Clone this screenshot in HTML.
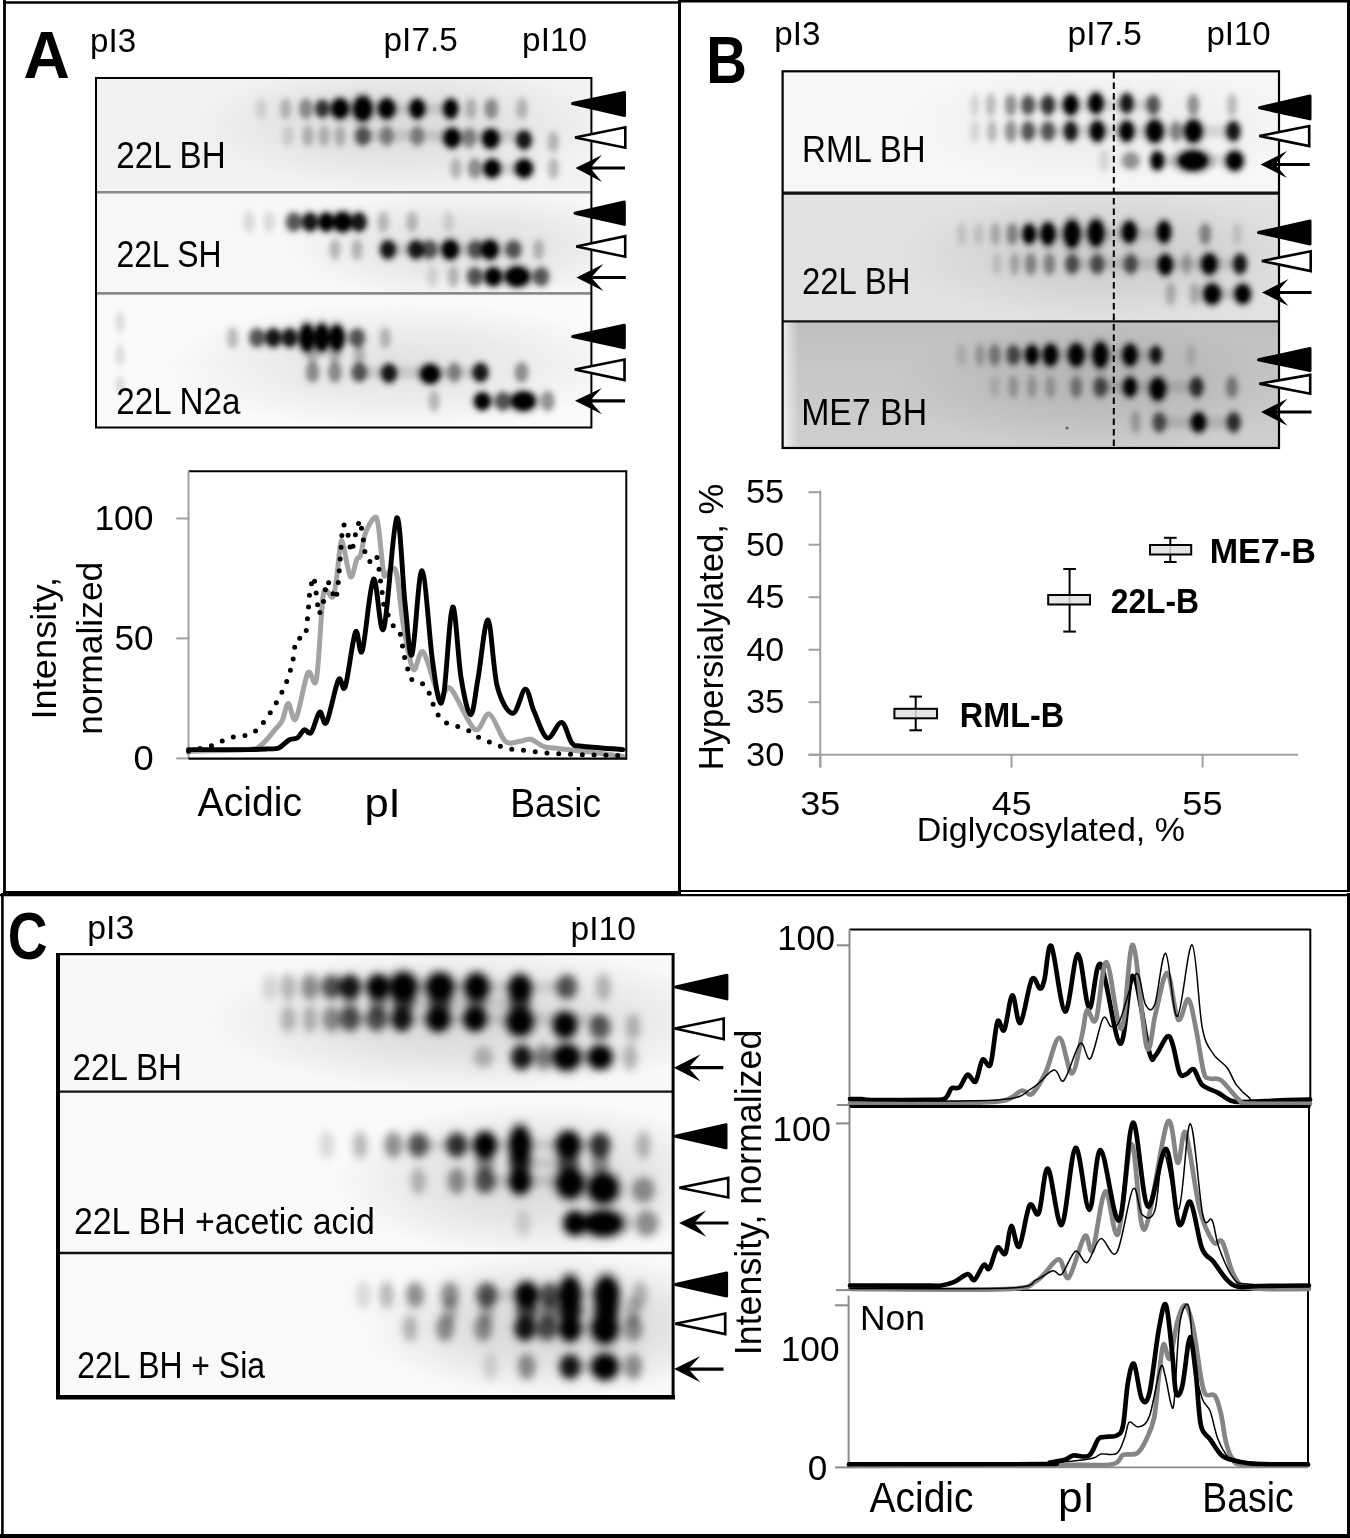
<!DOCTYPE html><html><head><meta charset="utf-8"><title>Figure</title><style>html,body{margin:0;padding:0;background:#fff;}svg{display:block;}</style></head><body><svg width="1350" height="1538" viewBox="0 0 1350 1538" font-family="'Liberation Sans', Arial, sans-serif"><defs><filter id="blur" x="-20%" y="-20%" width="140%" height="140%"><feGaussianBlur stdDeviation="2.9"/></filter><filter id="blurC" x="-20%" y="-20%" width="140%" height="140%"><feGaussianBlur stdDeviation="3.8"/></filter></defs><rect width="1350" height="1538" fill="#fff"/><line x1="4.5" y1="0" x2="4.5" y2="893" stroke="#000" stroke-width="2.8" />
<line x1="3" y1="2.5" x2="681" y2="2.5" stroke="#000" stroke-width="2.4" />
<line x1="679.5" y1="0" x2="679.5" y2="893" stroke="#000" stroke-width="3" />
<line x1="3" y1="893.5" x2="681" y2="893.5" stroke="#000" stroke-width="5" />
<text x="23.4" y="77.6" font-size="67" font-weight="bold" textLength="46.3" lengthAdjust="spacingAndGlyphs">A</text>
<text x="90" y="51.8" font-size="34" textLength="46.1" lengthAdjust="spacingAndGlyphs">pI3</text>
<text x="383.6" y="51.2" font-size="34" textLength="74.1" lengthAdjust="spacingAndGlyphs">pI7.5</text>
<text x="522.1" y="51.2" font-size="34" textLength="64.9" lengthAdjust="spacingAndGlyphs">pI10</text>
<clipPath id="cA1"><rect x="96" y="78" width="495.4" height="114"/></clipPath>
<clipPath id="cA2"><rect x="96" y="192" width="495.4" height="101.5"/></clipPath>
<clipPath id="cA3"><rect x="96" y="293.5" width="495.4" height="134"/></clipPath>
<rect x="96" y="78" width="495.4" height="114" fill="#f2f2f2" />
<rect x="96" y="192" width="495.4" height="101.5" fill="#f7f7f7" />
<rect x="96" y="293.5" width="495.4" height="134" fill="#fafafa" />
<radialGradient id="hz1"><stop offset="0" stop-color="#000" stop-opacity="0.100"/><stop offset="0.5" stop-color="#000" stop-opacity="0.060"/><stop offset="1" stop-color="#000" stop-opacity="0"/></radialGradient>
<g clip-path="url(#cA1)"><ellipse cx="400" cy="125" rx="210" ry="64" fill="url(#hz1)"/></g>
<radialGradient id="hz2"><stop offset="0" stop-color="#000" stop-opacity="0.100"/><stop offset="0.5" stop-color="#000" stop-opacity="0.060"/><stop offset="1" stop-color="#000" stop-opacity="0"/></radialGradient>
<g clip-path="url(#cA2)"><ellipse cx="470" cy="245" rx="182" ry="56" fill="url(#hz2)"/></g>
<radialGradient id="hz3"><stop offset="0" stop-color="#000" stop-opacity="0.100"/><stop offset="0.5" stop-color="#000" stop-opacity="0.060"/><stop offset="1" stop-color="#000" stop-opacity="0"/></radialGradient>
<g clip-path="url(#cA3)"><ellipse cx="400" cy="365" rx="238" ry="64" fill="url(#hz3)"/></g>
<g clip-path="url(#cA1)" filter="url(#blur)">
<rect x="318.2" y="102.7" width="136.5" height="12" rx="6" fill="#000" fill-opacity="0.11"/>
<rect x="358.7" y="130" width="169.3" height="12" rx="6" fill="#000" fill-opacity="0.11"/>
<rect x="488" y="162.5" width="40" height="12" rx="6" fill="#000" fill-opacity="0.11"/>
<ellipse cx="261.1" cy="108.7" rx="7.9" ry="14.2" fill="#000" fill-opacity="0.02"/>
<ellipse cx="261.1" cy="108.7" rx="5.5" ry="10.1" fill="#000" fill-opacity="0.10"/>
<ellipse cx="285.6" cy="108.7" rx="7.9" ry="14.2" fill="#000" fill-opacity="0.04"/>
<ellipse cx="285.6" cy="108.7" rx="5.5" ry="10.1" fill="#000" fill-opacity="0.20"/>
<ellipse cx="305.9" cy="108.7" rx="9.4" ry="13.5" fill="#000" fill-opacity="0.08"/>
<ellipse cx="305.9" cy="108.7" rx="6.5" ry="9.7" fill="#000" fill-opacity="0.35"/>
<ellipse cx="322.2" cy="108.7" rx="9.9" ry="12.2" fill="#000" fill-opacity="0.16"/>
<ellipse cx="322.2" cy="108.7" rx="6.8" ry="8.7" fill="#000" fill-opacity="0.72"/>
<ellipse cx="340" cy="108.7" rx="12.7" ry="14.2" fill="#000" fill-opacity="0.22"/>
<ellipse cx="340" cy="108.7" rx="8.7" ry="10.1" fill="#000" fill-opacity="1.00"/>
<ellipse cx="362.7" cy="108.7" rx="13.8" ry="17.4" fill="#000" fill-opacity="0.22"/>
<ellipse cx="362.7" cy="108.7" rx="9.5" ry="12.4" fill="#000" fill-opacity="1.00"/>
<ellipse cx="386.7" cy="108.7" rx="12.1" ry="14.2" fill="#000" fill-opacity="0.22"/>
<ellipse cx="386.7" cy="108.7" rx="8.4" ry="10.1" fill="#000" fill-opacity="1.00"/>
<ellipse cx="417.3" cy="108.7" rx="11" ry="13.5" fill="#000" fill-opacity="0.22"/>
<ellipse cx="417.3" cy="108.7" rx="7.6" ry="9.7" fill="#000" fill-opacity="1.00"/>
<ellipse cx="450.7" cy="108.7" rx="10.5" ry="13.5" fill="#000" fill-opacity="0.22"/>
<ellipse cx="450.7" cy="108.7" rx="7.2" ry="9.7" fill="#000" fill-opacity="1.00"/>
<ellipse cx="470.9" cy="108.7" rx="7.9" ry="14.2" fill="#000" fill-opacity="0.04"/>
<ellipse cx="470.9" cy="108.7" rx="5.5" ry="10.1" fill="#000" fill-opacity="0.20"/>
<ellipse cx="491.3" cy="108.7" rx="9.4" ry="13.5" fill="#000" fill-opacity="0.08"/>
<ellipse cx="491.3" cy="108.7" rx="6.5" ry="9.7" fill="#000" fill-opacity="0.35"/>
<ellipse cx="521.9" cy="108.7" rx="7.9" ry="14.2" fill="#000" fill-opacity="0.04"/>
<ellipse cx="521.9" cy="108.7" rx="5.5" ry="10.1" fill="#000" fill-opacity="0.20"/>
<ellipse cx="288" cy="136" rx="7.9" ry="14.2" fill="#000" fill-opacity="0.02"/>
<ellipse cx="288" cy="136" rx="5.5" ry="10.1" fill="#000" fill-opacity="0.10"/>
<ellipse cx="308" cy="136" rx="7.9" ry="14.2" fill="#000" fill-opacity="0.04"/>
<ellipse cx="308" cy="136" rx="5.5" ry="10.1" fill="#000" fill-opacity="0.20"/>
<ellipse cx="324" cy="136" rx="7.9" ry="14.2" fill="#000" fill-opacity="0.04"/>
<ellipse cx="324" cy="136" rx="5.5" ry="10.1" fill="#000" fill-opacity="0.20"/>
<ellipse cx="340" cy="136" rx="7.9" ry="14.2" fill="#000" fill-opacity="0.04"/>
<ellipse cx="340" cy="136" rx="5.5" ry="10.1" fill="#000" fill-opacity="0.20"/>
<ellipse cx="362.7" cy="136" rx="11" ry="12.9" fill="#000" fill-opacity="0.12"/>
<ellipse cx="362.7" cy="136" rx="7.6" ry="9.2" fill="#000" fill-opacity="0.56"/>
<ellipse cx="386.7" cy="136" rx="9.4" ry="13.5" fill="#000" fill-opacity="0.08"/>
<ellipse cx="386.7" cy="136" rx="6.5" ry="9.7" fill="#000" fill-opacity="0.35"/>
<ellipse cx="417.3" cy="136" rx="9.4" ry="13.5" fill="#000" fill-opacity="0.08"/>
<ellipse cx="417.3" cy="136" rx="6.5" ry="9.7" fill="#000" fill-opacity="0.35"/>
<ellipse cx="452" cy="138" rx="12.1" ry="13.5" fill="#000" fill-opacity="0.22"/>
<ellipse cx="452" cy="138" rx="8.4" ry="9.7" fill="#000" fill-opacity="1.00"/>
<ellipse cx="469.3" cy="138" rx="9.4" ry="13.5" fill="#000" fill-opacity="0.08"/>
<ellipse cx="469.3" cy="138" rx="6.5" ry="9.7" fill="#000" fill-opacity="0.35"/>
<ellipse cx="490.7" cy="138.7" rx="12.1" ry="13.5" fill="#000" fill-opacity="0.22"/>
<ellipse cx="490.7" cy="138.7" rx="8.4" ry="9.7" fill="#000" fill-opacity="1.00"/>
<ellipse cx="524" cy="140" rx="11" ry="12.9" fill="#000" fill-opacity="0.19"/>
<ellipse cx="524" cy="140" rx="7.6" ry="9.2" fill="#000" fill-opacity="0.88"/>
<ellipse cx="553.3" cy="142" rx="7.9" ry="14.2" fill="#000" fill-opacity="0.04"/>
<ellipse cx="553.3" cy="142" rx="5.5" ry="10.1" fill="#000" fill-opacity="0.20"/>
<ellipse cx="456" cy="168.5" rx="7.9" ry="14.2" fill="#000" fill-opacity="0.04"/>
<ellipse cx="456" cy="168.5" rx="5.5" ry="10.1" fill="#000" fill-opacity="0.20"/>
<ellipse cx="474.7" cy="168.5" rx="9.4" ry="13.5" fill="#000" fill-opacity="0.08"/>
<ellipse cx="474.7" cy="168.5" rx="6.5" ry="9.7" fill="#000" fill-opacity="0.35"/>
<ellipse cx="492" cy="168.5" rx="12.1" ry="12.9" fill="#000" fill-opacity="0.22"/>
<ellipse cx="492" cy="168.5" rx="8.4" ry="9.2" fill="#000" fill-opacity="1.00"/>
<ellipse cx="524" cy="168.5" rx="12.7" ry="12.9" fill="#000" fill-opacity="0.22"/>
<ellipse cx="524" cy="168.5" rx="8.7" ry="9.2" fill="#000" fill-opacity="1.00"/>
<ellipse cx="553.3" cy="168.5" rx="7.9" ry="14.2" fill="#000" fill-opacity="0.04"/>
<ellipse cx="553.3" cy="168.5" rx="5.5" ry="10.1" fill="#000" fill-opacity="0.20"/>
</g>
<g clip-path="url(#cA2)" filter="url(#blur)">
<rect x="289.7" y="216" width="73.2" height="12" rx="6" fill="#000" fill-opacity="0.11"/>
<rect x="384" y="243.6" width="133.6" height="12" rx="6" fill="#000" fill-opacity="0.11"/>
<rect x="470.7" y="270.7" width="74.6" height="12" rx="6" fill="#000" fill-opacity="0.11"/>
<ellipse cx="248.9" cy="222" rx="7.9" ry="14.2" fill="#000" fill-opacity="0.02"/>
<ellipse cx="248.9" cy="222" rx="5.5" ry="10.1" fill="#000" fill-opacity="0.10"/>
<ellipse cx="269.3" cy="222" rx="7.9" ry="14.2" fill="#000" fill-opacity="0.02"/>
<ellipse cx="269.3" cy="222" rx="5.5" ry="10.1" fill="#000" fill-opacity="0.10"/>
<ellipse cx="293.7" cy="222" rx="11" ry="12.9" fill="#000" fill-opacity="0.12"/>
<ellipse cx="293.7" cy="222" rx="7.6" ry="9.2" fill="#000" fill-opacity="0.56"/>
<ellipse cx="310" cy="222" rx="11" ry="12.9" fill="#000" fill-opacity="0.19"/>
<ellipse cx="310" cy="222" rx="7.6" ry="9.2" fill="#000" fill-opacity="0.88"/>
<ellipse cx="326.3" cy="222" rx="11" ry="12.9" fill="#000" fill-opacity="0.22"/>
<ellipse cx="326.3" cy="222" rx="7.6" ry="9.2" fill="#000" fill-opacity="1.00"/>
<ellipse cx="342.6" cy="222" rx="13.2" ry="14.2" fill="#000" fill-opacity="0.22"/>
<ellipse cx="342.6" cy="222" rx="9.1" ry="10.1" fill="#000" fill-opacity="1.00"/>
<ellipse cx="358.9" cy="222" rx="11" ry="12.9" fill="#000" fill-opacity="0.19"/>
<ellipse cx="358.9" cy="222" rx="7.6" ry="9.2" fill="#000" fill-opacity="0.88"/>
<ellipse cx="383.3" cy="222" rx="7.9" ry="14.2" fill="#000" fill-opacity="0.04"/>
<ellipse cx="383.3" cy="222" rx="5.5" ry="10.1" fill="#000" fill-opacity="0.20"/>
<ellipse cx="411.9" cy="222" rx="7.9" ry="14.2" fill="#000" fill-opacity="0.04"/>
<ellipse cx="411.9" cy="222" rx="5.5" ry="10.1" fill="#000" fill-opacity="0.20"/>
<ellipse cx="448.5" cy="222" rx="7.9" ry="14.2" fill="#000" fill-opacity="0.02"/>
<ellipse cx="448.5" cy="222" rx="5.5" ry="10.1" fill="#000" fill-opacity="0.10"/>
<ellipse cx="335" cy="249.6" rx="7.9" ry="14.2" fill="#000" fill-opacity="0.04"/>
<ellipse cx="335" cy="249.6" rx="5.5" ry="10.1" fill="#000" fill-opacity="0.20"/>
<ellipse cx="357" cy="249.6" rx="7.9" ry="14.2" fill="#000" fill-opacity="0.04"/>
<ellipse cx="357" cy="249.6" rx="5.5" ry="10.1" fill="#000" fill-opacity="0.20"/>
<ellipse cx="388" cy="249.6" rx="11" ry="12.9" fill="#000" fill-opacity="0.19"/>
<ellipse cx="388" cy="249.6" rx="7.6" ry="9.2" fill="#000" fill-opacity="0.88"/>
<ellipse cx="416" cy="249.6" rx="11" ry="12.9" fill="#000" fill-opacity="0.19"/>
<ellipse cx="416" cy="249.6" rx="7.6" ry="9.2" fill="#000" fill-opacity="0.88"/>
<ellipse cx="429.3" cy="249.6" rx="11" ry="12.9" fill="#000" fill-opacity="0.12"/>
<ellipse cx="429.3" cy="249.6" rx="7.6" ry="9.2" fill="#000" fill-opacity="0.56"/>
<ellipse cx="450.2" cy="249.6" rx="12.1" ry="13.5" fill="#000" fill-opacity="0.22"/>
<ellipse cx="450.2" cy="249.6" rx="8.4" ry="9.7" fill="#000" fill-opacity="1.00"/>
<ellipse cx="475.7" cy="249.6" rx="11" ry="12.9" fill="#000" fill-opacity="0.12"/>
<ellipse cx="475.7" cy="249.6" rx="7.6" ry="9.2" fill="#000" fill-opacity="0.56"/>
<ellipse cx="489.9" cy="249.6" rx="12.1" ry="13.5" fill="#000" fill-opacity="0.22"/>
<ellipse cx="489.9" cy="249.6" rx="8.4" ry="9.7" fill="#000" fill-opacity="1.00"/>
<ellipse cx="513.6" cy="249.6" rx="11" ry="12.9" fill="#000" fill-opacity="0.12"/>
<ellipse cx="513.6" cy="249.6" rx="7.6" ry="9.2" fill="#000" fill-opacity="0.56"/>
<ellipse cx="538.5" cy="249.6" rx="7.9" ry="14.2" fill="#000" fill-opacity="0.04"/>
<ellipse cx="538.5" cy="249.6" rx="5.5" ry="10.1" fill="#000" fill-opacity="0.20"/>
<ellipse cx="432" cy="276.7" rx="7.9" ry="14.2" fill="#000" fill-opacity="0.02"/>
<ellipse cx="432" cy="276.7" rx="5.5" ry="10.1" fill="#000" fill-opacity="0.10"/>
<ellipse cx="453.3" cy="276.7" rx="7.9" ry="14.2" fill="#000" fill-opacity="0.04"/>
<ellipse cx="453.3" cy="276.7" rx="5.5" ry="10.1" fill="#000" fill-opacity="0.20"/>
<ellipse cx="474.7" cy="276.7" rx="11" ry="12.9" fill="#000" fill-opacity="0.12"/>
<ellipse cx="474.7" cy="276.7" rx="7.6" ry="9.2" fill="#000" fill-opacity="0.56"/>
<ellipse cx="493.3" cy="276.7" rx="12.1" ry="12.9" fill="#000" fill-opacity="0.22"/>
<ellipse cx="493.3" cy="276.7" rx="8.4" ry="9.2" fill="#000" fill-opacity="1.00"/>
<ellipse cx="517.3" cy="276.7" rx="17.6" ry="14.2" fill="#000" fill-opacity="0.22"/>
<ellipse cx="517.3" cy="276.7" rx="12.2" ry="10.1" fill="#000" fill-opacity="1.00"/>
<ellipse cx="541.3" cy="276.7" rx="11" ry="12.9" fill="#000" fill-opacity="0.12"/>
<ellipse cx="541.3" cy="276.7" rx="7.6" ry="9.2" fill="#000" fill-opacity="0.56"/>
</g>
<g clip-path="url(#cA3)" filter="url(#blur)">
<rect x="253" y="331.8" width="108.3" height="12" rx="6" fill="#000" fill-opacity="0.11"/>
<rect x="355.2" y="366.5" width="129.3" height="12" rx="6" fill="#000" fill-opacity="0.11"/>
<rect x="478.3" y="395.2" width="49.1" height="12" rx="6" fill="#000" fill-opacity="0.11"/>
<ellipse cx="120" cy="322" rx="6.3" ry="14.2" fill="#000" fill-opacity="0.02"/>
<ellipse cx="120" cy="322" rx="4.4" ry="10.1" fill="#000" fill-opacity="0.10"/>
<ellipse cx="120" cy="355" rx="6.3" ry="14.2" fill="#000" fill-opacity="0.02"/>
<ellipse cx="120" cy="355" rx="4.4" ry="10.1" fill="#000" fill-opacity="0.10"/>
<ellipse cx="120" cy="385" rx="6.3" ry="11.3" fill="#000" fill-opacity="0.02"/>
<ellipse cx="120" cy="385" rx="4.4" ry="8.1" fill="#000" fill-opacity="0.10"/>
<ellipse cx="232.6" cy="337.8" rx="7.9" ry="14.2" fill="#000" fill-opacity="0.04"/>
<ellipse cx="232.6" cy="337.8" rx="5.5" ry="10.1" fill="#000" fill-opacity="0.20"/>
<ellipse cx="257" cy="337.8" rx="11" ry="12.9" fill="#000" fill-opacity="0.12"/>
<ellipse cx="257" cy="337.8" rx="7.6" ry="9.2" fill="#000" fill-opacity="0.56"/>
<ellipse cx="273.3" cy="337.8" rx="11" ry="12.9" fill="#000" fill-opacity="0.19"/>
<ellipse cx="273.3" cy="337.8" rx="7.6" ry="9.2" fill="#000" fill-opacity="0.88"/>
<ellipse cx="289.6" cy="337.8" rx="11" ry="12.9" fill="#000" fill-opacity="0.19"/>
<ellipse cx="289.6" cy="337.8" rx="7.6" ry="9.2" fill="#000" fill-opacity="0.88"/>
<ellipse cx="306.9" cy="337.8" rx="11" ry="19.3" fill="#000" fill-opacity="0.22"/>
<ellipse cx="306.9" cy="337.8" rx="7.6" ry="13.8" fill="#000" fill-opacity="1.00"/>
<ellipse cx="321.8" cy="337.8" rx="11" ry="19.3" fill="#000" fill-opacity="0.22"/>
<ellipse cx="321.8" cy="337.8" rx="7.6" ry="13.8" fill="#000" fill-opacity="1.00"/>
<ellipse cx="336.8" cy="337.8" rx="11" ry="18" fill="#000" fill-opacity="0.22"/>
<ellipse cx="336.8" cy="337.8" rx="7.6" ry="12.9" fill="#000" fill-opacity="1.00"/>
<ellipse cx="357.3" cy="337.8" rx="11" ry="12.9" fill="#000" fill-opacity="0.12"/>
<ellipse cx="357.3" cy="337.8" rx="7.6" ry="9.2" fill="#000" fill-opacity="0.56"/>
<ellipse cx="385.3" cy="337.8" rx="7.9" ry="14.2" fill="#000" fill-opacity="0.04"/>
<ellipse cx="385.3" cy="337.8" rx="5.5" ry="10.1" fill="#000" fill-opacity="0.20"/>
<ellipse cx="312.5" cy="355" rx="7.9" ry="14.2" fill="#000" fill-opacity="0.04"/>
<ellipse cx="312.5" cy="355" rx="5.5" ry="10.1" fill="#000" fill-opacity="0.20"/>
<ellipse cx="334.9" cy="355" rx="7.9" ry="14.2" fill="#000" fill-opacity="0.04"/>
<ellipse cx="334.9" cy="355" rx="5.5" ry="10.1" fill="#000" fill-opacity="0.20"/>
<ellipse cx="359.2" cy="355" rx="7.9" ry="14.2" fill="#000" fill-opacity="0.04"/>
<ellipse cx="359.2" cy="355" rx="5.5" ry="10.1" fill="#000" fill-opacity="0.20"/>
<ellipse cx="312.5" cy="372.5" rx="9.4" ry="13.5" fill="#000" fill-opacity="0.08"/>
<ellipse cx="312.5" cy="372.5" rx="6.5" ry="9.7" fill="#000" fill-opacity="0.35"/>
<ellipse cx="334.9" cy="372.5" rx="9.4" ry="13.5" fill="#000" fill-opacity="0.08"/>
<ellipse cx="334.9" cy="372.5" rx="6.5" ry="9.7" fill="#000" fill-opacity="0.35"/>
<ellipse cx="359.2" cy="372.5" rx="11" ry="12.9" fill="#000" fill-opacity="0.12"/>
<ellipse cx="359.2" cy="372.5" rx="7.6" ry="9.2" fill="#000" fill-opacity="0.56"/>
<ellipse cx="389" cy="373.3" rx="11" ry="12.9" fill="#000" fill-opacity="0.19"/>
<ellipse cx="389" cy="373.3" rx="7.6" ry="9.2" fill="#000" fill-opacity="0.88"/>
<ellipse cx="430.1" cy="374" rx="14.3" ry="13.5" fill="#000" fill-opacity="0.22"/>
<ellipse cx="430.1" cy="374" rx="9.9" ry="9.7" fill="#000" fill-opacity="1.00"/>
<ellipse cx="454.3" cy="372.5" rx="9.4" ry="13.5" fill="#000" fill-opacity="0.08"/>
<ellipse cx="454.3" cy="372.5" rx="6.5" ry="9.7" fill="#000" fill-opacity="0.35"/>
<ellipse cx="480.5" cy="372.5" rx="11" ry="12.9" fill="#000" fill-opacity="0.19"/>
<ellipse cx="480.5" cy="372.5" rx="7.6" ry="9.2" fill="#000" fill-opacity="0.88"/>
<ellipse cx="521.5" cy="372.5" rx="9.4" ry="13.5" fill="#000" fill-opacity="0.08"/>
<ellipse cx="521.5" cy="372.5" rx="6.5" ry="9.7" fill="#000" fill-opacity="0.35"/>
<ellipse cx="434" cy="401.2" rx="7.9" ry="14.2" fill="#000" fill-opacity="0.04"/>
<ellipse cx="434" cy="401.2" rx="5.5" ry="10.1" fill="#000" fill-opacity="0.20"/>
<ellipse cx="482.3" cy="401.2" rx="11.6" ry="12.2" fill="#000" fill-opacity="0.22"/>
<ellipse cx="482.3" cy="401.2" rx="8" ry="8.7" fill="#000" fill-opacity="1.00"/>
<ellipse cx="502.9" cy="401.2" rx="11" ry="12.9" fill="#000" fill-opacity="0.12"/>
<ellipse cx="502.9" cy="401.2" rx="7.6" ry="9.2" fill="#000" fill-opacity="0.56"/>
<ellipse cx="523.4" cy="401.2" rx="17.6" ry="13.5" fill="#000" fill-opacity="0.22"/>
<ellipse cx="523.4" cy="401.2" rx="12.2" ry="9.7" fill="#000" fill-opacity="1.00"/>
<ellipse cx="547.7" cy="401.2" rx="9.4" ry="13.5" fill="#000" fill-opacity="0.08"/>
<ellipse cx="547.7" cy="401.2" rx="6.5" ry="9.7" fill="#000" fill-opacity="0.35"/>
</g>
<line x1="96" y1="192.2" x2="591.4" y2="192.2" stroke="#8a8a8a" stroke-width="2.6" />
<line x1="96" y1="293.4" x2="591.4" y2="293.4" stroke="#8a8a8a" stroke-width="2.6" />
<rect x="96" y="78" width="495.4" height="349.5" fill="none" stroke="#000" stroke-width="2" />
<text x="116.3" y="167.5" font-size="36" textLength="109.4" lengthAdjust="spacingAndGlyphs">22L BH</text>
<text x="116.4" y="266.6" font-size="36" textLength="105.2" lengthAdjust="spacingAndGlyphs">22L SH</text>
<text x="116.3" y="414.4" font-size="36" textLength="124.1" lengthAdjust="spacingAndGlyphs">22L N2a</text>
<path d="M572.5 103.5 L624.5 92.5 L624.5 115.5 Z" fill="#000" stroke="#000" stroke-width="3" stroke-linejoin="round"/>
<path d="M575 137.5 L625.3 127.3 L625.3 147.7 Z" fill="#fff" stroke="#000" stroke-width="2.6" stroke-linejoin="miter"/>
<line x1="583.5" y1="168" x2="625" y2="168" stroke="#000" stroke-width="3.2" />
<path d="M575.5 168 L602 155 L590.1 168 L602 182 Z" fill="#000"/>
<path d="M575 213.2 L624.3 202 L624.3 224.4 Z" fill="#000" stroke="#000" stroke-width="3" stroke-linejoin="round"/>
<path d="M576.3 246.5 L625.2 236.2 L625.2 256.7 Z" fill="#fff" stroke="#000" stroke-width="2.6" stroke-linejoin="miter"/>
<line x1="584.4" y1="277.5" x2="625.8" y2="277.5" stroke="#000" stroke-width="3.2" />
<path d="M576.4 277.5 L603.4 264 L591.2 277.5 L603.4 291 Z" fill="#000"/>
<path d="M572.7 336.5 L624.3 325.3 L624.3 347.8 Z" fill="#000" stroke="#000" stroke-width="3" stroke-linejoin="round"/>
<path d="M574.8 369.4 L624.5 359.5 L624.5 380.1 Z" fill="#fff" stroke="#000" stroke-width="2.6" stroke-linejoin="miter"/>
<line x1="583" y1="400.8" x2="625" y2="400.8" stroke="#000" stroke-width="3.2" />
<path d="M575 400.8 L601.9 388.1 L589.8 400.8 L601.9 414.3 Z" fill="#000"/>
<line x1="188.5" y1="471.2" x2="626.3" y2="471.2" stroke="#000" stroke-width="2" />
<line x1="626.3" y1="470.2" x2="626.3" y2="759.5" stroke="#000" stroke-width="2" />
<line x1="188.5" y1="471" x2="188.5" y2="759" stroke="#a0a0a0" stroke-width="2" />
<line x1="176.3" y1="758.4" x2="188.5" y2="758.4" stroke="#a0a0a0" stroke-width="2" />
<line x1="176.3" y1="638.4" x2="188.5" y2="638.4" stroke="#a0a0a0" stroke-width="2" />
<line x1="176.3" y1="518.5" x2="188.5" y2="518.5" stroke="#a0a0a0" stroke-width="2" />
<text x="94.4" y="530.3" font-size="35.7" textLength="59.2" lengthAdjust="spacingAndGlyphs">100</text>
<text x="114.5" y="650.3" font-size="35.7" textLength="39.1" lengthAdjust="spacingAndGlyphs">50</text>
<text x="133.4" y="769.5" font-size="35.7" textLength="20.2" lengthAdjust="spacingAndGlyphs">0</text>
<text transform="translate(56.4 719.5) rotate(-90)" font-size="35" textLength="142.5" lengthAdjust="spacingAndGlyphs">Intensity,</text>
<text transform="translate(102.2 734.8) rotate(-90)" font-size="35" textLength="173.1" lengthAdjust="spacingAndGlyphs">normalized</text>
<text x="197.6" y="816.3" font-size="41" textLength="104.4" lengthAdjust="spacingAndGlyphs">Acidic</text>
<text x="364.4" y="816.8" font-size="41" textLength="36.3" lengthAdjust="spacingAndGlyphs">pI</text>
<text x="510.3" y="816.8" font-size="41" textLength="90.7" lengthAdjust="spacingAndGlyphs">Basic</text>
<path d="M188.5 751.2 C198.4 750.9 235.9 750.7 248.1 749.6 C260.3 748.5 257.2 747.9 261.8 744.5 C266.4 741.1 272 733.2 275.4 729.2 C278.8 725.2 280 724.9 282.2 720.6 C284.4 716.3 286 703.9 288.3 703.6 C290.6 703.3 292.6 724.1 295.8 719 C299.1 713.9 304.4 679.5 307.8 673 C311.2 666.5 313.8 692 316.3 679.8 C318.8 667.5 321 614.4 322.7 599.5 C324.4 584.6 324.8 591.1 326.5 590.7 C328.2 590.3 331.1 599.1 332.8 597 C334.5 594.9 335.3 586.6 336.6 578 C337.9 569.4 339.3 551 340.4 545.3 C341.4 539.5 341.2 538.2 342.9 543.5 C344.6 548.8 348.2 574.2 350.5 576.8 C352.8 579.4 355.1 562.8 356.8 559.2 C358.5 555.6 359 559.8 360.5 555.4 C362 551 363.3 539 365.6 532.7 C367.9 526.4 372.3 518.9 374.4 517.6 C376.5 516.4 376.7 516.4 378.2 525.2 C379.7 534 381.9 562.1 383.2 570.5 C384.4 578.9 384.2 575.9 385.7 575.6 C387.2 575.3 390.1 568.6 392 568.6 C393.9 568.6 395.1 566 397 575.6 C398.9 585.2 400.7 610.4 403.4 626 C406.1 641.6 410 665 413.3 669.3 C416.6 673.6 419 647.5 423.3 652 C427.6 656.5 434.7 689.9 439.3 696 C443.9 702.1 444.8 683.2 450.7 688.7 C456.6 694.2 468.3 725.1 474.7 729.3 C481.1 733.5 484.2 712 489.3 714 C494.4 716 500.2 736.8 505.3 741.3 C510.4 745.8 515.8 741.6 520 741.3 C524.2 741 526.7 738.4 530.7 739.3 C534.7 740.2 539.1 745.1 544 746.7 C548.9 748.3 552.3 747.8 560 748.7 C567.7 749.6 579.5 750.7 590 752 C600.5 753.3 617.4 755.7 622.9 756.4" fill="none" stroke="#a3a3a3" stroke-width="5" stroke-linejoin="round" stroke-linecap="round"/>
<path d="M188.5 749.6 C198.4 749.6 234.8 749.7 248.1 749.6 C261.4 749.5 263.5 749.2 268.6 748.9 C273.7 748.6 275.4 749.4 278.8 747.9 C282.2 746.4 285.9 741.7 289 740 C292.1 738.3 294.9 739.4 297.5 737.7 C300.1 736 302.1 730.6 304.4 729.8 C306.7 728.9 308.6 735.5 311.2 732.6 C313.8 729.7 317.1 713.8 319.7 712.1 C322.2 710.4 323.4 727.8 326.5 722.4 C329.6 717 335.3 685.8 338.4 679.8 C341.5 673.8 342.3 694.5 345.2 686.6 C348.1 678.7 352.6 638.1 355.5 632.1 C358.4 626.1 359.3 659.6 362.3 650.8 C365.3 642 369.9 582.9 373.5 579.2 C377.1 575.5 379.8 638.9 383.7 628.7 C387.6 618.5 393.1 522.2 396.7 517.9 C400.2 513.6 402.4 580.3 405 603.1 C407.6 625.9 409.2 660.1 412 654.7 C414.8 649.3 418.5 570.2 421.9 570.7 C425.2 571.2 429.3 636.3 432.1 657.6 C434.9 678.9 436.7 693 438.7 698.7 C440.7 704.4 441.8 707 444.1 691.7 C446.4 676.4 449.9 609.3 452.7 607 C455.5 604.7 458.1 660 461.1 678 C464.1 696 467.9 714.7 470.7 714.7 C473.5 714.7 475.2 693.8 478.1 678 C481 662.2 484.8 618.5 488 620 C491.2 621.5 493.2 671.2 497.3 686.7 C501.4 702.2 508 712.9 512.7 713.3 C517.4 713.7 521.7 689.5 525.3 689.3 C528.9 689.1 530.6 704 534.3 712.1 C538 720.2 542.8 736.3 547.3 738 C551.8 739.7 557.5 721.6 561.6 722.4 C565.7 723.2 568.4 738.8 571.8 742.8 C575.2 746.8 573.5 745.1 582 746.2 C590.5 747.3 616.1 749 622.9 749.6" fill="none" stroke="#000" stroke-width="4.9" stroke-linejoin="round" stroke-linecap="round"/>
<path d="M188.5 751.3 L212.4 745.5 L224.3 740 L236.2 736 L248.1 735.3 L258.4 729.2 L268.6 715.5 L278.8 698.5 L285.6 684.9 L292.4 664.4 L295.7 639.8 L305.7 635.8 L307 623 L308.3 610.8 L309.1 598.2 L310.5 586.3 L313.9 576.8 L315.8 589.4 L317.1 601.8 L319.2 614.4 L323 605.2 L324.6 593.2 L327.8 580.6 L332.2 591.9 L336 599.5 L337.9 586.9 L338.9 574.6 L340 562 L341 549.5 L341.6 537.2 L343.5 524.6 L347.3 527.7 L348.6 540 L351.1 552.3 L354.5 541.6 L356.1 529.6 L359.9 520.2 L362.4 532.7 L364 545 L365.6 557.3 L370.6 562.3 L376.6 555.7 L378.9 568.3 L380.4 580.4 L382.2 593 L383.8 605.5 L392.7 625.3 L399.7 630.9 L402 642.9 L404 655.3 L407.3 667.7 L410.9 679.3 L421.3 682.4 L428 689.6 L432 701.6 L436.7 713.3 L444.9 722.4 L456 726 L467.6 730 L478 737.1 L489.3 742 L500.7 746.4 L512.9 749.6 L525.3 750.4 L537.7 752 L550 753.3 L590 755 L622.9 755.7" fill="none" stroke="#000" stroke-width="5" stroke-linecap="round" stroke-dasharray="0 11.8"/>
<line x1="188.5" y1="758.6" x2="627" y2="758.6" stroke="#000" stroke-width="2.2" />
<line x1="679" y1="1.2" x2="1350" y2="1.2" stroke="#000" stroke-width="2.5" />
<line x1="1348.5" y1="0" x2="1348.5" y2="892" stroke="#000" stroke-width="3" />
<line x1="679" y1="891" x2="1350" y2="891" stroke="#000" stroke-width="2" />
<text x="706.2" y="83.3" font-size="67.5" font-weight="bold" textLength="40.7" lengthAdjust="spacingAndGlyphs">B</text>
<text x="774.3" y="45.1" font-size="34" textLength="46.1" lengthAdjust="spacingAndGlyphs">pI3</text>
<text x="1067.6" y="45" font-size="34" textLength="74.3" lengthAdjust="spacingAndGlyphs">pI7.5</text>
<text x="1206.4" y="45" font-size="34" textLength="64.3" lengthAdjust="spacingAndGlyphs">pI10</text>
<clipPath id="cB1"><rect x="782.6" y="71.3" width="496.4" height="121.4"/></clipPath>
<clipPath id="cB2"><rect x="782.6" y="192.7" width="496.4" height="128"/></clipPath>
<clipPath id="cB3"><rect x="782.6" y="320.7" width="496.4" height="127.3"/></clipPath>
<rect x="782.6" y="71.3" width="496.4" height="121.4" fill="#f7f7f7" />
<rect x="782.6" y="192.7" width="496.4" height="128" fill="#e1e1e1" />
<linearGradient id="b3g" x1="0" y1="0" x2="0" y2="1"><stop offset="0" stop-color="#bfbfbf"/><stop offset="0.45" stop-color="#c8c8c8"/><stop offset="1" stop-color="#cecece"/></linearGradient>
<rect x="782.6" y="320.7" width="496.4" height="127.3" fill="url(#b3g)" />
<linearGradient id="b3l"><stop offset="0" stop-color="#fff" stop-opacity="0.7"/><stop offset="1" stop-color="#fff" stop-opacity="0"/></linearGradient>
<rect x="782.6" y="320.7" width="16" height="127.3" fill="url(#b3l)" />
<radialGradient id="hz4"><stop offset="0" stop-color="#000" stop-opacity="0.050"/><stop offset="0.5" stop-color="#000" stop-opacity="0.030"/><stop offset="1" stop-color="#000" stop-opacity="0"/></radialGradient>
<g clip-path="url(#cB1)"><ellipse cx="1110" cy="125" rx="210" ry="64" fill="url(#hz4)"/></g>
<radialGradient id="hz5"><stop offset="0" stop-color="#000" stop-opacity="0.100"/><stop offset="0.5" stop-color="#000" stop-opacity="0.060"/><stop offset="1" stop-color="#000" stop-opacity="0"/></radialGradient>
<g clip-path="url(#cB2)"><ellipse cx="1110" cy="255" rx="210" ry="64" fill="url(#hz5)"/></g>
<radialGradient id="hz6"><stop offset="0" stop-color="#000" stop-opacity="0.100"/><stop offset="0.5" stop-color="#000" stop-opacity="0.060"/><stop offset="1" stop-color="#000" stop-opacity="0"/></radialGradient>
<g clip-path="url(#cB3)"><ellipse cx="1100" cy="385" rx="210" ry="64" fill="url(#hz6)"/></g>
<g clip-path="url(#cB1)" filter="url(#blur)">
<rect x="1024" y="99" width="133.3" height="12" rx="6" fill="#000" fill-opacity="0.11"/>
<rect x="1024" y="125.3" width="213.3" height="12" rx="6" fill="#000" fill-opacity="0.11"/>
<rect x="1153.3" y="154.7" width="85.4" height="12" rx="6" fill="#000" fill-opacity="0.11"/>
<ellipse cx="974.7" cy="105" rx="6.9" ry="15.1" fill="#000" fill-opacity="0.02"/>
<ellipse cx="974.7" cy="105" rx="4.8" ry="10.8" fill="#000" fill-opacity="0.10"/>
<ellipse cx="990.7" cy="105" rx="6.9" ry="15.1" fill="#000" fill-opacity="0.04"/>
<ellipse cx="990.7" cy="105" rx="4.8" ry="10.8" fill="#000" fill-opacity="0.20"/>
<ellipse cx="1010.7" cy="105" rx="8.1" ry="14.4" fill="#000" fill-opacity="0.08"/>
<ellipse cx="1010.7" cy="105" rx="5.6" ry="10.3" fill="#000" fill-opacity="0.35"/>
<ellipse cx="1028" cy="105" rx="9.6" ry="13.7" fill="#000" fill-opacity="0.12"/>
<ellipse cx="1028" cy="105" rx="6.6" ry="9.8" fill="#000" fill-opacity="0.56"/>
<ellipse cx="1048" cy="105" rx="9.6" ry="13.7" fill="#000" fill-opacity="0.16"/>
<ellipse cx="1048" cy="105" rx="6.6" ry="9.8" fill="#000" fill-opacity="0.72"/>
<ellipse cx="1070.7" cy="104.7" rx="10.5" ry="14.4" fill="#000" fill-opacity="0.22"/>
<ellipse cx="1070.7" cy="104.7" rx="7.3" ry="10.3" fill="#000" fill-opacity="1.00"/>
<ellipse cx="1096" cy="103.3" rx="10.5" ry="14.4" fill="#000" fill-opacity="0.22"/>
<ellipse cx="1096" cy="103.3" rx="7.3" ry="10.3" fill="#000" fill-opacity="1.00"/>
<ellipse cx="1126.7" cy="103.3" rx="9.6" ry="13.7" fill="#000" fill-opacity="0.19"/>
<ellipse cx="1126.7" cy="103.3" rx="6.6" ry="9.8" fill="#000" fill-opacity="0.88"/>
<ellipse cx="1153.3" cy="105" rx="9.6" ry="13.7" fill="#000" fill-opacity="0.12"/>
<ellipse cx="1153.3" cy="105" rx="6.6" ry="9.8" fill="#000" fill-opacity="0.56"/>
<ellipse cx="1193.3" cy="105" rx="8.1" ry="14.4" fill="#000" fill-opacity="0.08"/>
<ellipse cx="1193.3" cy="105" rx="5.6" ry="10.3" fill="#000" fill-opacity="0.35"/>
<ellipse cx="1232" cy="105" rx="6.9" ry="15.1" fill="#000" fill-opacity="0.04"/>
<ellipse cx="1232" cy="105" rx="4.8" ry="10.8" fill="#000" fill-opacity="0.20"/>
<ellipse cx="974.7" cy="131.3" rx="6.9" ry="15.1" fill="#000" fill-opacity="0.02"/>
<ellipse cx="974.7" cy="131.3" rx="4.8" ry="10.8" fill="#000" fill-opacity="0.10"/>
<ellipse cx="992" cy="131.3" rx="6.9" ry="15.1" fill="#000" fill-opacity="0.04"/>
<ellipse cx="992" cy="131.3" rx="4.8" ry="10.8" fill="#000" fill-opacity="0.20"/>
<ellipse cx="1010.7" cy="131.3" rx="8.1" ry="14.4" fill="#000" fill-opacity="0.08"/>
<ellipse cx="1010.7" cy="131.3" rx="5.6" ry="10.3" fill="#000" fill-opacity="0.35"/>
<ellipse cx="1028" cy="131.3" rx="9.6" ry="13.7" fill="#000" fill-opacity="0.12"/>
<ellipse cx="1028" cy="131.3" rx="6.6" ry="9.8" fill="#000" fill-opacity="0.56"/>
<ellipse cx="1048" cy="131.3" rx="9.6" ry="13.7" fill="#000" fill-opacity="0.12"/>
<ellipse cx="1048" cy="131.3" rx="6.6" ry="9.8" fill="#000" fill-opacity="0.56"/>
<ellipse cx="1070.7" cy="131.3" rx="9.6" ry="13.7" fill="#000" fill-opacity="0.19"/>
<ellipse cx="1070.7" cy="131.3" rx="6.6" ry="9.8" fill="#000" fill-opacity="0.88"/>
<ellipse cx="1097.3" cy="131.3" rx="10.5" ry="14.4" fill="#000" fill-opacity="0.22"/>
<ellipse cx="1097.3" cy="131.3" rx="7.3" ry="10.3" fill="#000" fill-opacity="1.00"/>
<ellipse cx="1126.7" cy="131.3" rx="10.5" ry="14.4" fill="#000" fill-opacity="0.22"/>
<ellipse cx="1126.7" cy="131.3" rx="7.3" ry="10.3" fill="#000" fill-opacity="1.00"/>
<ellipse cx="1154.7" cy="131.3" rx="12.4" ry="15.8" fill="#000" fill-opacity="0.22"/>
<ellipse cx="1154.7" cy="131.3" rx="8.6" ry="11.3" fill="#000" fill-opacity="1.00"/>
<ellipse cx="1176" cy="131.3" rx="8.1" ry="14.4" fill="#000" fill-opacity="0.08"/>
<ellipse cx="1176" cy="131.3" rx="5.6" ry="10.3" fill="#000" fill-opacity="0.35"/>
<ellipse cx="1193.3" cy="131.3" rx="12.9" ry="15.8" fill="#000" fill-opacity="0.22"/>
<ellipse cx="1193.3" cy="131.3" rx="8.9" ry="11.3" fill="#000" fill-opacity="1.00"/>
<ellipse cx="1233.3" cy="131.3" rx="10" ry="13.7" fill="#000" fill-opacity="0.19"/>
<ellipse cx="1233.3" cy="131.3" rx="6.9" ry="9.8" fill="#000" fill-opacity="0.88"/>
<ellipse cx="1104" cy="160.7" rx="6.9" ry="15.1" fill="#000" fill-opacity="0.02"/>
<ellipse cx="1104" cy="160.7" rx="4.8" ry="10.8" fill="#000" fill-opacity="0.10"/>
<ellipse cx="1130.7" cy="160.7" rx="12.2" ry="11.5" fill="#000" fill-opacity="0.08"/>
<ellipse cx="1130.7" cy="160.7" rx="8.4" ry="8.2" fill="#000" fill-opacity="0.35"/>
<ellipse cx="1157.3" cy="160.7" rx="9.6" ry="13" fill="#000" fill-opacity="0.22"/>
<ellipse cx="1157.3" cy="160.7" rx="6.6" ry="9.3" fill="#000" fill-opacity="1.00"/>
<ellipse cx="1193" cy="160.7" rx="22" ry="14.4" fill="#000" fill-opacity="0.22"/>
<ellipse cx="1193" cy="160.7" rx="15.2" ry="10.3" fill="#000" fill-opacity="1.00"/>
<ellipse cx="1234.7" cy="160.7" rx="12.4" ry="13.7" fill="#000" fill-opacity="0.22"/>
<ellipse cx="1234.7" cy="160.7" rx="8.6" ry="9.8" fill="#000" fill-opacity="1.00"/>
</g>
<g clip-path="url(#cB2)" filter="url(#blur)">
<rect x="1025.2" y="228" width="142.8" height="12" rx="6" fill="#000" fill-opacity="0.11"/>
<rect x="1068" y="258" width="176" height="12" rx="6" fill="#000" fill-opacity="0.11"/>
<rect x="1208" y="288" width="38.7" height="12" rx="6" fill="#000" fill-opacity="0.11"/>
<ellipse cx="961.6" cy="234" rx="6.9" ry="15.1" fill="#000" fill-opacity="0.02"/>
<ellipse cx="961.6" cy="234" rx="4.8" ry="10.8" fill="#000" fill-opacity="0.10"/>
<ellipse cx="978.5" cy="234" rx="6.9" ry="15.1" fill="#000" fill-opacity="0.02"/>
<ellipse cx="978.5" cy="234" rx="4.8" ry="10.8" fill="#000" fill-opacity="0.10"/>
<ellipse cx="995.4" cy="234" rx="6.9" ry="15.1" fill="#000" fill-opacity="0.04"/>
<ellipse cx="995.4" cy="234" rx="4.8" ry="10.8" fill="#000" fill-opacity="0.20"/>
<ellipse cx="1012.3" cy="234" rx="8.1" ry="14.4" fill="#000" fill-opacity="0.08"/>
<ellipse cx="1012.3" cy="234" rx="5.6" ry="10.3" fill="#000" fill-opacity="0.35"/>
<ellipse cx="1029.2" cy="234" rx="9.6" ry="13.7" fill="#000" fill-opacity="0.22"/>
<ellipse cx="1029.2" cy="234" rx="6.6" ry="9.8" fill="#000" fill-opacity="1.00"/>
<ellipse cx="1048" cy="234" rx="10.5" ry="15.8" fill="#000" fill-opacity="0.22"/>
<ellipse cx="1048" cy="234" rx="7.3" ry="11.3" fill="#000" fill-opacity="1.00"/>
<ellipse cx="1072" cy="234" rx="12" ry="19.2" fill="#000" fill-opacity="0.22"/>
<ellipse cx="1072" cy="234" rx="8.2" ry="13.7" fill="#000" fill-opacity="1.00"/>
<ellipse cx="1096" cy="233" rx="12" ry="18.5" fill="#000" fill-opacity="0.22"/>
<ellipse cx="1096" cy="233" rx="8.2" ry="13.2" fill="#000" fill-opacity="1.00"/>
<ellipse cx="1129.3" cy="232" rx="10.5" ry="15.1" fill="#000" fill-opacity="0.22"/>
<ellipse cx="1129.3" cy="232" rx="7.3" ry="10.8" fill="#000" fill-opacity="1.00"/>
<ellipse cx="1164" cy="232" rx="10" ry="15.1" fill="#000" fill-opacity="0.22"/>
<ellipse cx="1164" cy="232" rx="6.9" ry="10.8" fill="#000" fill-opacity="1.00"/>
<ellipse cx="1205.3" cy="234" rx="8.1" ry="14.4" fill="#000" fill-opacity="0.08"/>
<ellipse cx="1205.3" cy="234" rx="5.6" ry="10.3" fill="#000" fill-opacity="0.35"/>
<ellipse cx="1237.3" cy="234" rx="6.9" ry="15.1" fill="#000" fill-opacity="0.02"/>
<ellipse cx="1237.3" cy="234" rx="4.8" ry="10.8" fill="#000" fill-opacity="0.10"/>
<ellipse cx="997" cy="264" rx="6.9" ry="15.1" fill="#000" fill-opacity="0.02"/>
<ellipse cx="997" cy="264" rx="4.8" ry="10.8" fill="#000" fill-opacity="0.10"/>
<ellipse cx="1014.7" cy="264" rx="6.9" ry="15.1" fill="#000" fill-opacity="0.04"/>
<ellipse cx="1014.7" cy="264" rx="4.8" ry="10.8" fill="#000" fill-opacity="0.20"/>
<ellipse cx="1030.7" cy="264" rx="8.1" ry="14.4" fill="#000" fill-opacity="0.08"/>
<ellipse cx="1030.7" cy="264" rx="5.6" ry="10.3" fill="#000" fill-opacity="0.35"/>
<ellipse cx="1049.3" cy="264" rx="8.1" ry="14.4" fill="#000" fill-opacity="0.08"/>
<ellipse cx="1049.3" cy="264" rx="5.6" ry="10.3" fill="#000" fill-opacity="0.35"/>
<ellipse cx="1072" cy="264" rx="9.6" ry="13.7" fill="#000" fill-opacity="0.12"/>
<ellipse cx="1072" cy="264" rx="6.6" ry="9.8" fill="#000" fill-opacity="0.56"/>
<ellipse cx="1097.3" cy="264" rx="9.6" ry="13.7" fill="#000" fill-opacity="0.12"/>
<ellipse cx="1097.3" cy="264" rx="6.6" ry="9.8" fill="#000" fill-opacity="0.56"/>
<ellipse cx="1130.7" cy="264" rx="9.6" ry="13.7" fill="#000" fill-opacity="0.12"/>
<ellipse cx="1130.7" cy="264" rx="6.6" ry="9.8" fill="#000" fill-opacity="0.56"/>
<ellipse cx="1165.3" cy="264.7" rx="10.5" ry="14.4" fill="#000" fill-opacity="0.22"/>
<ellipse cx="1165.3" cy="264.7" rx="7.3" ry="10.3" fill="#000" fill-opacity="1.00"/>
<ellipse cx="1186.7" cy="264" rx="6.9" ry="15.1" fill="#000" fill-opacity="0.04"/>
<ellipse cx="1186.7" cy="264" rx="4.8" ry="10.8" fill="#000" fill-opacity="0.20"/>
<ellipse cx="1209.3" cy="264" rx="11.5" ry="14.4" fill="#000" fill-opacity="0.22"/>
<ellipse cx="1209.3" cy="264" rx="7.9" ry="10.3" fill="#000" fill-opacity="1.00"/>
<ellipse cx="1240" cy="264" rx="9.6" ry="13.7" fill="#000" fill-opacity="0.19"/>
<ellipse cx="1240" cy="264" rx="6.6" ry="9.8" fill="#000" fill-opacity="0.88"/>
<ellipse cx="1170.7" cy="294" rx="6.9" ry="15.1" fill="#000" fill-opacity="0.04"/>
<ellipse cx="1170.7" cy="294" rx="4.8" ry="10.8" fill="#000" fill-opacity="0.20"/>
<ellipse cx="1194.7" cy="294" rx="6.9" ry="15.1" fill="#000" fill-opacity="0.04"/>
<ellipse cx="1194.7" cy="294" rx="4.8" ry="10.8" fill="#000" fill-opacity="0.20"/>
<ellipse cx="1212" cy="294" rx="12.4" ry="14.4" fill="#000" fill-opacity="0.22"/>
<ellipse cx="1212" cy="294" rx="8.6" ry="10.3" fill="#000" fill-opacity="1.00"/>
<ellipse cx="1242.7" cy="294" rx="11.5" ry="13.7" fill="#000" fill-opacity="0.22"/>
<ellipse cx="1242.7" cy="294" rx="7.9" ry="9.8" fill="#000" fill-opacity="1.00"/>
</g>
<g clip-path="url(#cB3)" filter="url(#blur)">
<rect x="1009.3" y="349" width="150.6" height="12" rx="6" fill="#000" fill-opacity="0.11"/>
<rect x="1096.4" y="381" width="104.3" height="12" rx="6" fill="#000" fill-opacity="0.11"/>
<rect x="1155.3" y="416.4" width="82.4" height="12" rx="6" fill="#000" fill-opacity="0.11"/>
<ellipse cx="961.5" cy="355" rx="6.9" ry="15.1" fill="#000" fill-opacity="0.02"/>
<ellipse cx="961.5" cy="355" rx="4.8" ry="10.8" fill="#000" fill-opacity="0.10"/>
<ellipse cx="980" cy="355" rx="6.9" ry="15.1" fill="#000" fill-opacity="0.04"/>
<ellipse cx="980" cy="355" rx="4.8" ry="10.8" fill="#000" fill-opacity="0.20"/>
<ellipse cx="994.8" cy="355" rx="8.1" ry="14.4" fill="#000" fill-opacity="0.08"/>
<ellipse cx="994.8" cy="355" rx="5.6" ry="10.3" fill="#000" fill-opacity="0.35"/>
<ellipse cx="1013.3" cy="355" rx="9.6" ry="13.7" fill="#000" fill-opacity="0.12"/>
<ellipse cx="1013.3" cy="355" rx="6.6" ry="9.8" fill="#000" fill-opacity="0.56"/>
<ellipse cx="1031.9" cy="355" rx="9.6" ry="13.7" fill="#000" fill-opacity="0.22"/>
<ellipse cx="1031.9" cy="355" rx="6.6" ry="9.8" fill="#000" fill-opacity="1.00"/>
<ellipse cx="1050.4" cy="355" rx="10.5" ry="15.1" fill="#000" fill-opacity="0.22"/>
<ellipse cx="1050.4" cy="355" rx="7.3" ry="10.8" fill="#000" fill-opacity="1.00"/>
<ellipse cx="1076.3" cy="355" rx="11.5" ry="15.8" fill="#000" fill-opacity="0.22"/>
<ellipse cx="1076.3" cy="355" rx="7.9" ry="11.3" fill="#000" fill-opacity="1.00"/>
<ellipse cx="1100.4" cy="355" rx="11" ry="17.8" fill="#000" fill-opacity="0.22"/>
<ellipse cx="1100.4" cy="355" rx="7.6" ry="12.7" fill="#000" fill-opacity="1.00"/>
<ellipse cx="1130" cy="355" rx="10.5" ry="15.1" fill="#000" fill-opacity="0.22"/>
<ellipse cx="1130" cy="355" rx="7.3" ry="10.8" fill="#000" fill-opacity="1.00"/>
<ellipse cx="1155.9" cy="355" rx="8.6" ry="12.3" fill="#000" fill-opacity="0.19"/>
<ellipse cx="1155.9" cy="355" rx="5.9" ry="8.8" fill="#000" fill-opacity="0.88"/>
<ellipse cx="1191" cy="355" rx="6.9" ry="15.1" fill="#000" fill-opacity="0.02"/>
<ellipse cx="1191" cy="355" rx="4.8" ry="10.8" fill="#000" fill-opacity="0.10"/>
<ellipse cx="994.8" cy="387" rx="6.9" ry="15.1" fill="#000" fill-opacity="0.02"/>
<ellipse cx="994.8" cy="387" rx="4.8" ry="10.8" fill="#000" fill-opacity="0.10"/>
<ellipse cx="1013.3" cy="387" rx="6.9" ry="15.1" fill="#000" fill-opacity="0.04"/>
<ellipse cx="1013.3" cy="387" rx="4.8" ry="10.8" fill="#000" fill-opacity="0.20"/>
<ellipse cx="1031.9" cy="387" rx="6.9" ry="15.1" fill="#000" fill-opacity="0.04"/>
<ellipse cx="1031.9" cy="387" rx="4.8" ry="10.8" fill="#000" fill-opacity="0.20"/>
<ellipse cx="1050.4" cy="387" rx="6.9" ry="15.1" fill="#000" fill-opacity="0.04"/>
<ellipse cx="1050.4" cy="387" rx="4.8" ry="10.8" fill="#000" fill-opacity="0.20"/>
<ellipse cx="1076.3" cy="387" rx="8.1" ry="14.4" fill="#000" fill-opacity="0.08"/>
<ellipse cx="1076.3" cy="387" rx="5.6" ry="10.3" fill="#000" fill-opacity="0.35"/>
<ellipse cx="1100.4" cy="387" rx="9.6" ry="13.7" fill="#000" fill-opacity="0.12"/>
<ellipse cx="1100.4" cy="387" rx="6.6" ry="9.8" fill="#000" fill-opacity="0.56"/>
<ellipse cx="1130" cy="387" rx="9.6" ry="13.7" fill="#000" fill-opacity="0.22"/>
<ellipse cx="1130" cy="387" rx="6.6" ry="9.8" fill="#000" fill-opacity="1.00"/>
<ellipse cx="1157.8" cy="389" rx="11.5" ry="15.8" fill="#000" fill-opacity="0.22"/>
<ellipse cx="1157.8" cy="389" rx="7.9" ry="11.3" fill="#000" fill-opacity="1.00"/>
<ellipse cx="1196.7" cy="387" rx="9.6" ry="13.7" fill="#000" fill-opacity="0.16"/>
<ellipse cx="1196.7" cy="387" rx="6.6" ry="9.8" fill="#000" fill-opacity="0.72"/>
<ellipse cx="1231.9" cy="387" rx="8.1" ry="14.4" fill="#000" fill-opacity="0.08"/>
<ellipse cx="1231.9" cy="387" rx="5.6" ry="10.3" fill="#000" fill-opacity="0.35"/>
<ellipse cx="1135.6" cy="422.4" rx="6.9" ry="15.1" fill="#000" fill-opacity="0.04"/>
<ellipse cx="1135.6" cy="422.4" rx="4.8" ry="10.8" fill="#000" fill-opacity="0.20"/>
<ellipse cx="1159.3" cy="422.4" rx="9.6" ry="13.7" fill="#000" fill-opacity="0.12"/>
<ellipse cx="1159.3" cy="422.4" rx="6.6" ry="9.8" fill="#000" fill-opacity="0.56"/>
<ellipse cx="1198.5" cy="422.4" rx="10.5" ry="13.7" fill="#000" fill-opacity="0.22"/>
<ellipse cx="1198.5" cy="422.4" rx="7.3" ry="9.8" fill="#000" fill-opacity="1.00"/>
<ellipse cx="1233.7" cy="422.4" rx="9.6" ry="13.7" fill="#000" fill-opacity="0.16"/>
<ellipse cx="1233.7" cy="422.4" rx="6.6" ry="9.8" fill="#000" fill-opacity="0.72"/>
</g>
<circle cx="1067" cy="428" r="1.6" fill="#666"/>
<line x1="782.6" y1="193.2" x2="1279" y2="193.2" stroke="#111" stroke-width="3.2" />
<line x1="782.6" y1="321.3" x2="1279" y2="321.3" stroke="#111" stroke-width="2.2" />
<rect x="782.6" y="71.3" width="496.4" height="376.7" fill="none" stroke="#000" stroke-width="2.2" />
<line x1="1113.8" y1="72" x2="1113.8" y2="447" stroke="#000" stroke-width="2" stroke-dasharray="6.5 4"/>
<text x="802" y="162" font-size="36" textLength="123.7" lengthAdjust="spacingAndGlyphs">RML BH</text>
<text x="802" y="293.5" font-size="36" textLength="108.6" lengthAdjust="spacingAndGlyphs">22L BH</text>
<text x="801.2" y="425.4" font-size="36" textLength="125.9" lengthAdjust="spacingAndGlyphs">ME7 BH</text>
<path d="M1259.5 107.8 L1310 96 L1310 118.9 Z" fill="#000" stroke="#000" stroke-width="3" stroke-linejoin="round"/>
<path d="M1259.3 136 L1309.2 126 L1309.2 146.1 Z" fill="#fff" stroke="#000" stroke-width="2.6" stroke-linejoin="miter"/>
<line x1="1268.6" y1="164.5" x2="1309.7" y2="164.5" stroke="#000" stroke-width="3.2" />
<path d="M1260.6 164.5 L1287 151 L1275.1 164.5 L1287 178 Z" fill="#000"/>
<path d="M1258.5 232.5 L1310 221 L1310 244 Z" fill="#000" stroke="#000" stroke-width="3" stroke-linejoin="round"/>
<path d="M1261.9 261 L1310.7 251.3 L1310.7 271.1 Z" fill="#fff" stroke="#000" stroke-width="2.6" stroke-linejoin="miter"/>
<line x1="1270" y1="292.5" x2="1311.5" y2="292.5" stroke="#000" stroke-width="3.2" />
<path d="M1262 292.5 L1288.5 279 L1276.6 292.5 L1288.5 306 Z" fill="#000"/>
<path d="M1258.5 359.8 L1310 348.5 L1310 370.5 Z" fill="#000" stroke="#000" stroke-width="3" stroke-linejoin="round"/>
<path d="M1259.3 383.7 L1310.2 374.9 L1310.2 393.7 Z" fill="#fff" stroke="#000" stroke-width="2.6" stroke-linejoin="miter"/>
<line x1="1269" y1="412" x2="1311.5" y2="412" stroke="#000" stroke-width="3.2" />
<path d="M1261 412 L1287.5 398.8 L1275.6 412 L1287.5 425.8 Z" fill="#000"/>
<line x1="820.2" y1="490.5" x2="820.2" y2="767.5" stroke="#a0a0a0" stroke-width="2" />
<line x1="808.5" y1="754.7" x2="1298" y2="754.7" stroke="#a0a0a0" stroke-width="2" />
<line x1="808.5" y1="754.7" x2="820.2" y2="754.7" stroke="#a0a0a0" stroke-width="2" />
<text x="746" y="765.6" font-size="34" textLength="38.3" lengthAdjust="spacingAndGlyphs">30</text>
<line x1="808.5" y1="702.2" x2="820.2" y2="702.2" stroke="#a0a0a0" stroke-width="2" />
<text x="746" y="713.1" font-size="34" textLength="38.4" lengthAdjust="spacingAndGlyphs">35</text>
<line x1="808.5" y1="649.7" x2="820.2" y2="649.7" stroke="#a0a0a0" stroke-width="2" />
<text x="746.5" y="660.6" font-size="34" textLength="37.7" lengthAdjust="spacingAndGlyphs">40</text>
<line x1="808.5" y1="597.2" x2="820.2" y2="597.2" stroke="#a0a0a0" stroke-width="2" />
<text x="746.5" y="608.1" font-size="34" textLength="37.8" lengthAdjust="spacingAndGlyphs">45</text>
<line x1="808.5" y1="544.7" x2="820.2" y2="544.7" stroke="#a0a0a0" stroke-width="2" />
<text x="745.9" y="555.6" font-size="34" textLength="38.3" lengthAdjust="spacingAndGlyphs">50</text>
<line x1="808.5" y1="492.2" x2="820.2" y2="492.2" stroke="#a0a0a0" stroke-width="2" />
<text x="745.9" y="503.1" font-size="34" textLength="38.4" lengthAdjust="spacingAndGlyphs">55</text>
<line x1="820.4" y1="754.7" x2="820.4" y2="767.5" stroke="#a0a0a0" stroke-width="2" />
<line x1="1011.5" y1="754.7" x2="1011.5" y2="767.5" stroke="#a0a0a0" stroke-width="2" />
<line x1="1202.6" y1="754.7" x2="1202.6" y2="767.5" stroke="#a0a0a0" stroke-width="2" />
<text x="800.2" y="814.7" font-size="34" textLength="40.1" lengthAdjust="spacingAndGlyphs">35</text>
<text x="991.8" y="814.7" font-size="34" textLength="39.7" lengthAdjust="spacingAndGlyphs">45</text>
<text x="1182.3" y="814.7" font-size="34" textLength="40.3" lengthAdjust="spacingAndGlyphs">55</text>
<text x="916.7" y="841" font-size="33.8" textLength="268.2" lengthAdjust="spacingAndGlyphs">Diglycosylated, %</text>
<text transform="translate(723.3 770.2) rotate(-90)" font-size="35.3" textLength="286.4" lengthAdjust="spacingAndGlyphs">Hypersialylated, %</text>
<line x1="915.7" y1="696.6" x2="915.7" y2="730.3" stroke="#000" stroke-width="2" />
<line x1="909.4" y1="696.6" x2="922" y2="696.6" stroke="#000" stroke-width="2" />
<line x1="909.4" y1="730.3" x2="922" y2="730.3" stroke="#000" stroke-width="2" />
<rect x="894.4" y="708.8" width="42.6" height="9.5" fill="#e2e2e2" stroke="#000" stroke-width="2" fill-opacity="0.85"/>
<line x1="1069.6" y1="569" x2="1069.6" y2="631.6" stroke="#000" stroke-width="2" />
<line x1="1063.3" y1="569" x2="1075.9" y2="569" stroke="#000" stroke-width="2" />
<line x1="1063.3" y1="631.6" x2="1075.9" y2="631.6" stroke="#000" stroke-width="2" />
<rect x="1048.2" y="595" width="41.8" height="9.5" fill="#e2e2e2" stroke="#000" stroke-width="2" fill-opacity="0.85"/>
<line x1="1170.3" y1="537.8" x2="1170.3" y2="562" stroke="#000" stroke-width="2" />
<line x1="1164" y1="537.8" x2="1176.6" y2="537.8" stroke="#000" stroke-width="2" />
<line x1="1164" y1="562" x2="1176.6" y2="562" stroke="#000" stroke-width="2" />
<rect x="1150" y="545" width="41.2" height="9.5" fill="#e2e2e2" stroke="#000" stroke-width="2" fill-opacity="0.85"/>
<text x="959.8" y="726.8" font-size="35.3" font-weight="bold" textLength="104.3" lengthAdjust="spacingAndGlyphs">RML-B</text>
<text x="1110.7" y="612.7" font-size="35.3" font-weight="bold" textLength="88.4" lengthAdjust="spacingAndGlyphs">22L-B</text>
<text x="1209.7" y="563" font-size="35.3" font-weight="bold" textLength="106.1" lengthAdjust="spacingAndGlyphs">ME7-B</text>
<line x1="0" y1="895.1" x2="1350" y2="895.1" stroke="#000" stroke-width="2.4" />
<line x1="2.4" y1="893" x2="2.4" y2="1538" stroke="#000" stroke-width="2.6" />
<line x1="1348.5" y1="893" x2="1348.5" y2="1538" stroke="#000" stroke-width="3" />
<line x1="0" y1="1536" x2="1350" y2="1536" stroke="#000" stroke-width="4" />
<text x="7.7" y="959" font-size="67" font-weight="bold" textLength="39.8" lengthAdjust="spacingAndGlyphs">C</text>
<text x="87.2" y="939.2" font-size="34" textLength="47" lengthAdjust="spacingAndGlyphs">pI3</text>
<text x="570.6" y="939.7" font-size="34" textLength="65.3" lengthAdjust="spacingAndGlyphs">pI10</text>
<clipPath id="cC1"><rect x="58" y="954" width="615" height="137.6"/></clipPath>
<clipPath id="cC2"><rect x="58" y="1091.6" width="615" height="161.4"/></clipPath>
<clipPath id="cC3"><rect x="58" y="1253" width="615" height="144.5"/></clipPath>
<rect x="58" y="954" width="615" height="137.6" fill="#f8f8f8" />
<rect x="58" y="1091.6" width="615" height="161.4" fill="#fafafa" />
<rect x="58" y="1253" width="615" height="144.5" fill="#f9f9f9" />
<radialGradient id="hz7"><stop offset="0" stop-color="#000" stop-opacity="0.140"/><stop offset="0.5" stop-color="#000" stop-opacity="0.084"/><stop offset="1" stop-color="#000" stop-opacity="0"/></radialGradient>
<g clip-path="url(#cC1)"><ellipse cx="470" cy="1020" rx="266" ry="72" fill="url(#hz7)"/></g>
<radialGradient id="hz8"><stop offset="0" stop-color="#000" stop-opacity="0.140"/><stop offset="0.5" stop-color="#000" stop-opacity="0.084"/><stop offset="1" stop-color="#000" stop-opacity="0"/></radialGradient>
<g clip-path="url(#cC2)"><ellipse cx="540" cy="1180" rx="210" ry="80" fill="url(#hz8)"/></g>
<radialGradient id="hz9"><stop offset="0" stop-color="#000" stop-opacity="0.160"/><stop offset="0.5" stop-color="#000" stop-opacity="0.096"/><stop offset="1" stop-color="#000" stop-opacity="0"/></radialGradient>
<g clip-path="url(#cC3)"><ellipse cx="560" cy="1325" rx="196" ry="72" fill="url(#hz9)"/></g>
<g clip-path="url(#cC1)" filter="url(#blurC)">
<rect x="327.7" y="981" width="243" height="12" rx="6" fill="#000" fill-opacity="0.11"/>
<rect x="399.3" y="997" width="124.7" height="12" rx="6" fill="#000" fill-opacity="0.11"/>
<rect x="346" y="1013" width="258" height="12" rx="6" fill="#000" fill-opacity="0.11"/>
<rect x="517.7" y="1051.3" width="86.3" height="12" rx="6" fill="#000" fill-opacity="0.11"/>
<ellipse cx="270" cy="987" rx="10" ry="17.2" fill="#000" fill-opacity="0.03"/>
<ellipse cx="270" cy="987" rx="6.9" ry="12.3" fill="#000" fill-opacity="0.10"/>
<ellipse cx="288.3" cy="987" rx="10" ry="17.2" fill="#000" fill-opacity="0.06"/>
<ellipse cx="288.3" cy="987" rx="6.9" ry="12.3" fill="#000" fill-opacity="0.20"/>
<ellipse cx="310" cy="987" rx="11.8" ry="16.5" fill="#000" fill-opacity="0.10"/>
<ellipse cx="310" cy="987" rx="8.2" ry="11.8" fill="#000" fill-opacity="0.35"/>
<ellipse cx="331.7" cy="987" rx="13.9" ry="15.7" fill="#000" fill-opacity="0.17"/>
<ellipse cx="331.7" cy="987" rx="9.6" ry="11.2" fill="#000" fill-opacity="0.56"/>
<ellipse cx="350" cy="987" rx="13.9" ry="15.7" fill="#000" fill-opacity="0.26"/>
<ellipse cx="350" cy="987" rx="9.6" ry="11.2" fill="#000" fill-opacity="0.88"/>
<ellipse cx="378.3" cy="987" rx="15.3" ry="16.5" fill="#000" fill-opacity="0.30"/>
<ellipse cx="378.3" cy="987" rx="10.6" ry="11.8" fill="#000" fill-opacity="1.00"/>
<ellipse cx="403.3" cy="987" rx="18.8" ry="19.6" fill="#000" fill-opacity="0.30"/>
<ellipse cx="403.3" cy="987" rx="13" ry="14" fill="#000" fill-opacity="1.00"/>
<ellipse cx="440" cy="987" rx="18.8" ry="18.8" fill="#000" fill-opacity="0.30"/>
<ellipse cx="440" cy="987" rx="13" ry="13.4" fill="#000" fill-opacity="1.00"/>
<ellipse cx="476.7" cy="987" rx="16.7" ry="18" fill="#000" fill-opacity="0.30"/>
<ellipse cx="476.7" cy="987" rx="11.5" ry="12.9" fill="#000" fill-opacity="1.00"/>
<ellipse cx="520" cy="988.3" rx="15.3" ry="18" fill="#000" fill-opacity="0.30"/>
<ellipse cx="520" cy="988.3" rx="10.6" ry="12.9" fill="#000" fill-opacity="1.00"/>
<ellipse cx="566.7" cy="987" rx="13.9" ry="15.7" fill="#000" fill-opacity="0.17"/>
<ellipse cx="566.7" cy="987" rx="9.6" ry="11.2" fill="#000" fill-opacity="0.56"/>
<ellipse cx="603.3" cy="987" rx="10" ry="17.2" fill="#000" fill-opacity="0.06"/>
<ellipse cx="603.3" cy="987" rx="6.9" ry="12.3" fill="#000" fill-opacity="0.20"/>
<ellipse cx="350" cy="1003" rx="10" ry="17.2" fill="#000" fill-opacity="0.06"/>
<ellipse cx="350" cy="1003" rx="6.9" ry="12.3" fill="#000" fill-opacity="0.20"/>
<ellipse cx="378.3" cy="1003" rx="11.8" ry="16.5" fill="#000" fill-opacity="0.10"/>
<ellipse cx="378.3" cy="1003" rx="8.2" ry="11.8" fill="#000" fill-opacity="0.35"/>
<ellipse cx="403.3" cy="1003" rx="13.9" ry="15.7" fill="#000" fill-opacity="0.17"/>
<ellipse cx="403.3" cy="1003" rx="9.6" ry="11.2" fill="#000" fill-opacity="0.56"/>
<ellipse cx="440" cy="1003" rx="13.9" ry="15.7" fill="#000" fill-opacity="0.17"/>
<ellipse cx="440" cy="1003" rx="9.6" ry="11.2" fill="#000" fill-opacity="0.56"/>
<ellipse cx="476.7" cy="1003" rx="11.8" ry="16.5" fill="#000" fill-opacity="0.10"/>
<ellipse cx="476.7" cy="1003" rx="8.2" ry="11.8" fill="#000" fill-opacity="0.35"/>
<ellipse cx="520" cy="1003" rx="13.9" ry="15.7" fill="#000" fill-opacity="0.17"/>
<ellipse cx="520" cy="1003" rx="9.6" ry="11.2" fill="#000" fill-opacity="0.56"/>
<ellipse cx="288.3" cy="1019" rx="10" ry="17.2" fill="#000" fill-opacity="0.06"/>
<ellipse cx="288.3" cy="1019" rx="6.9" ry="12.3" fill="#000" fill-opacity="0.20"/>
<ellipse cx="310" cy="1019" rx="10" ry="17.2" fill="#000" fill-opacity="0.06"/>
<ellipse cx="310" cy="1019" rx="6.9" ry="12.3" fill="#000" fill-opacity="0.20"/>
<ellipse cx="331.7" cy="1019" rx="11.8" ry="16.5" fill="#000" fill-opacity="0.10"/>
<ellipse cx="331.7" cy="1019" rx="8.2" ry="11.8" fill="#000" fill-opacity="0.35"/>
<ellipse cx="350" cy="1019" rx="13.9" ry="15.7" fill="#000" fill-opacity="0.17"/>
<ellipse cx="350" cy="1019" rx="9.6" ry="11.2" fill="#000" fill-opacity="0.56"/>
<ellipse cx="376.7" cy="1019" rx="13.9" ry="15.7" fill="#000" fill-opacity="0.17"/>
<ellipse cx="376.7" cy="1019" rx="9.6" ry="11.2" fill="#000" fill-opacity="0.56"/>
<ellipse cx="401.7" cy="1019" rx="13.9" ry="15.7" fill="#000" fill-opacity="0.26"/>
<ellipse cx="401.7" cy="1019" rx="9.6" ry="11.2" fill="#000" fill-opacity="0.88"/>
<ellipse cx="438.3" cy="1019" rx="16" ry="16.5" fill="#000" fill-opacity="0.30"/>
<ellipse cx="438.3" cy="1019" rx="11" ry="11.8" fill="#000" fill-opacity="1.00"/>
<ellipse cx="475" cy="1019" rx="15.3" ry="15.7" fill="#000" fill-opacity="0.30"/>
<ellipse cx="475" cy="1019" rx="10.6" ry="11.2" fill="#000" fill-opacity="1.00"/>
<ellipse cx="520" cy="1021.7" rx="18.1" ry="18.8" fill="#000" fill-opacity="0.30"/>
<ellipse cx="520" cy="1021.7" rx="12.5" ry="13.4" fill="#000" fill-opacity="1.00"/>
<ellipse cx="565" cy="1025" rx="16" ry="17.2" fill="#000" fill-opacity="0.30"/>
<ellipse cx="565" cy="1025" rx="11" ry="12.3" fill="#000" fill-opacity="1.00"/>
<ellipse cx="600" cy="1027" rx="13.9" ry="15.7" fill="#000" fill-opacity="0.17"/>
<ellipse cx="600" cy="1027" rx="9.6" ry="11.2" fill="#000" fill-opacity="0.56"/>
<ellipse cx="633" cy="1027" rx="10" ry="17.2" fill="#000" fill-opacity="0.06"/>
<ellipse cx="633" cy="1027" rx="6.9" ry="12.3" fill="#000" fill-opacity="0.20"/>
<ellipse cx="483.3" cy="1057.3" rx="13" ry="13.8" fill="#000" fill-opacity="0.06"/>
<ellipse cx="483.3" cy="1057.3" rx="9" ry="9.9" fill="#000" fill-opacity="0.20"/>
<ellipse cx="521.7" cy="1057.3" rx="13.9" ry="15.7" fill="#000" fill-opacity="0.26"/>
<ellipse cx="521.7" cy="1057.3" rx="9.6" ry="11.2" fill="#000" fill-opacity="0.88"/>
<ellipse cx="543.3" cy="1057.3" rx="11.8" ry="16.5" fill="#000" fill-opacity="0.10"/>
<ellipse cx="543.3" cy="1057.3" rx="8.2" ry="11.8" fill="#000" fill-opacity="0.35"/>
<ellipse cx="566.7" cy="1057.3" rx="18.8" ry="17.2" fill="#000" fill-opacity="0.30"/>
<ellipse cx="566.7" cy="1057.3" rx="13" ry="12.3" fill="#000" fill-opacity="1.00"/>
<ellipse cx="600" cy="1057.3" rx="16.7" ry="15.7" fill="#000" fill-opacity="0.30"/>
<ellipse cx="600" cy="1057.3" rx="11.5" ry="11.2" fill="#000" fill-opacity="1.00"/>
<ellipse cx="630" cy="1057.3" rx="10" ry="17.2" fill="#000" fill-opacity="0.06"/>
<ellipse cx="630" cy="1057.3" rx="6.9" ry="12.3" fill="#000" fill-opacity="0.20"/>
</g>
<g clip-path="url(#cC2)" filter="url(#blurC)">
<rect x="414.3" y="1139" width="189.7" height="12" rx="6" fill="#000" fill-opacity="0.11"/>
<rect x="516" y="1157" width="56.3" height="12" rx="6" fill="#000" fill-opacity="0.11"/>
<rect x="481" y="1175" width="126.3" height="12" rx="6" fill="#000" fill-opacity="0.11"/>
<rect x="571" y="1217.3" width="36.3" height="12" rx="6" fill="#000" fill-opacity="0.11"/>
<ellipse cx="326.7" cy="1145" rx="10" ry="17.2" fill="#000" fill-opacity="0.03"/>
<ellipse cx="326.7" cy="1145" rx="6.9" ry="12.3" fill="#000" fill-opacity="0.10"/>
<ellipse cx="360" cy="1145" rx="10" ry="17.2" fill="#000" fill-opacity="0.06"/>
<ellipse cx="360" cy="1145" rx="6.9" ry="12.3" fill="#000" fill-opacity="0.20"/>
<ellipse cx="393.3" cy="1145" rx="11.8" ry="16.5" fill="#000" fill-opacity="0.10"/>
<ellipse cx="393.3" cy="1145" rx="8.2" ry="11.8" fill="#000" fill-opacity="0.35"/>
<ellipse cx="418.3" cy="1145" rx="13.9" ry="15.7" fill="#000" fill-opacity="0.17"/>
<ellipse cx="418.3" cy="1145" rx="9.6" ry="11.2" fill="#000" fill-opacity="0.56"/>
<ellipse cx="456.7" cy="1145" rx="13.9" ry="15.7" fill="#000" fill-opacity="0.22"/>
<ellipse cx="456.7" cy="1145" rx="9.6" ry="11.2" fill="#000" fill-opacity="0.72"/>
<ellipse cx="485" cy="1145" rx="15.3" ry="17.2" fill="#000" fill-opacity="0.30"/>
<ellipse cx="485" cy="1145" rx="10.6" ry="12.3" fill="#000" fill-opacity="1.00"/>
<ellipse cx="520" cy="1145" rx="14.6" ry="25.1" fill="#000" fill-opacity="0.30"/>
<ellipse cx="520" cy="1145" rx="10.1" ry="17.9" fill="#000" fill-opacity="1.00"/>
<ellipse cx="568.3" cy="1145" rx="16.7" ry="18" fill="#000" fill-opacity="0.30"/>
<ellipse cx="568.3" cy="1145" rx="11.5" ry="12.9" fill="#000" fill-opacity="1.00"/>
<ellipse cx="600" cy="1145" rx="13.9" ry="15.7" fill="#000" fill-opacity="0.22"/>
<ellipse cx="600" cy="1145" rx="9.6" ry="11.2" fill="#000" fill-opacity="0.72"/>
<ellipse cx="643.3" cy="1145" rx="10" ry="17.2" fill="#000" fill-opacity="0.06"/>
<ellipse cx="643.3" cy="1145" rx="6.9" ry="12.3" fill="#000" fill-opacity="0.20"/>
<ellipse cx="485" cy="1163" rx="11.8" ry="16.5" fill="#000" fill-opacity="0.10"/>
<ellipse cx="485" cy="1163" rx="8.2" ry="11.8" fill="#000" fill-opacity="0.35"/>
<ellipse cx="520" cy="1163" rx="13.9" ry="15.7" fill="#000" fill-opacity="0.22"/>
<ellipse cx="520" cy="1163" rx="9.6" ry="11.2" fill="#000" fill-opacity="0.72"/>
<ellipse cx="568.3" cy="1163" rx="13.9" ry="15.7" fill="#000" fill-opacity="0.17"/>
<ellipse cx="568.3" cy="1163" rx="9.6" ry="11.2" fill="#000" fill-opacity="0.56"/>
<ellipse cx="600" cy="1163" rx="11.8" ry="16.5" fill="#000" fill-opacity="0.10"/>
<ellipse cx="600" cy="1163" rx="8.2" ry="11.8" fill="#000" fill-opacity="0.35"/>
<ellipse cx="418.3" cy="1181" rx="10" ry="17.2" fill="#000" fill-opacity="0.06"/>
<ellipse cx="418.3" cy="1181" rx="6.9" ry="12.3" fill="#000" fill-opacity="0.20"/>
<ellipse cx="456.7" cy="1181" rx="11.8" ry="16.5" fill="#000" fill-opacity="0.10"/>
<ellipse cx="456.7" cy="1181" rx="8.2" ry="11.8" fill="#000" fill-opacity="0.35"/>
<ellipse cx="485" cy="1181" rx="13.9" ry="15.7" fill="#000" fill-opacity="0.17"/>
<ellipse cx="485" cy="1181" rx="9.6" ry="11.2" fill="#000" fill-opacity="0.56"/>
<ellipse cx="520" cy="1181" rx="14.6" ry="17.2" fill="#000" fill-opacity="0.30"/>
<ellipse cx="520" cy="1181" rx="10.1" ry="12.3" fill="#000" fill-opacity="1.00"/>
<ellipse cx="570" cy="1183.3" rx="18.8" ry="20.4" fill="#000" fill-opacity="0.30"/>
<ellipse cx="570" cy="1183.3" rx="13" ry="14.6" fill="#000" fill-opacity="1.00"/>
<ellipse cx="603.3" cy="1188.3" rx="20.9" ry="20.4" fill="#000" fill-opacity="0.30"/>
<ellipse cx="603.3" cy="1188.3" rx="14.4" ry="14.6" fill="#000" fill-opacity="1.00"/>
<ellipse cx="643.3" cy="1190" rx="15.4" ry="16.5" fill="#000" fill-opacity="0.10"/>
<ellipse cx="643.3" cy="1190" rx="10.6" ry="11.8" fill="#000" fill-opacity="0.35"/>
<ellipse cx="523.3" cy="1223.3" rx="10" ry="17.2" fill="#000" fill-opacity="0.03"/>
<ellipse cx="523.3" cy="1223.3" rx="6.9" ry="12.3" fill="#000" fill-opacity="0.10"/>
<ellipse cx="575" cy="1223.3" rx="15.3" ry="15.7" fill="#000" fill-opacity="0.30"/>
<ellipse cx="575" cy="1223.3" rx="10.6" ry="11.2" fill="#000" fill-opacity="1.00"/>
<ellipse cx="603.3" cy="1223.3" rx="27.8" ry="17.2" fill="#000" fill-opacity="0.30"/>
<ellipse cx="603.3" cy="1223.3" rx="19.2" ry="12.3" fill="#000" fill-opacity="1.00"/>
<ellipse cx="646.7" cy="1223.3" rx="15.4" ry="16.5" fill="#000" fill-opacity="0.10"/>
<ellipse cx="646.7" cy="1223.3" rx="10.6" ry="11.8" fill="#000" fill-opacity="0.35"/>
</g>
<g clip-path="url(#cC3)" filter="url(#blurC)">
<rect x="482.7" y="1289" width="128" height="12" rx="6" fill="#000" fill-opacity="0.11"/>
<rect x="522.7" y="1305" width="88" height="12" rx="6" fill="#000" fill-opacity="0.11"/>
<rect x="521" y="1322.3" width="88" height="12" rx="6" fill="#000" fill-opacity="0.11"/>
<rect x="566" y="1360.7" width="43" height="12" rx="6" fill="#000" fill-opacity="0.11"/>
<ellipse cx="363.3" cy="1295" rx="10" ry="17.2" fill="#000" fill-opacity="0.03"/>
<ellipse cx="363.3" cy="1295" rx="6.9" ry="12.3" fill="#000" fill-opacity="0.10"/>
<ellipse cx="386.7" cy="1295" rx="10" ry="17.2" fill="#000" fill-opacity="0.06"/>
<ellipse cx="386.7" cy="1295" rx="6.9" ry="12.3" fill="#000" fill-opacity="0.20"/>
<ellipse cx="415" cy="1295" rx="11.8" ry="16.5" fill="#000" fill-opacity="0.10"/>
<ellipse cx="415" cy="1295" rx="8.2" ry="11.8" fill="#000" fill-opacity="0.35"/>
<ellipse cx="450" cy="1295" rx="11.8" ry="16.5" fill="#000" fill-opacity="0.10"/>
<ellipse cx="450" cy="1295" rx="8.2" ry="11.8" fill="#000" fill-opacity="0.35"/>
<ellipse cx="486.7" cy="1295" rx="13.9" ry="15.7" fill="#000" fill-opacity="0.17"/>
<ellipse cx="486.7" cy="1295" rx="9.6" ry="11.2" fill="#000" fill-opacity="0.56"/>
<ellipse cx="526.7" cy="1295" rx="15.3" ry="17.2" fill="#000" fill-opacity="0.30"/>
<ellipse cx="526.7" cy="1295" rx="10.6" ry="12.3" fill="#000" fill-opacity="1.00"/>
<ellipse cx="550" cy="1295" rx="13.9" ry="15.7" fill="#000" fill-opacity="0.17"/>
<ellipse cx="550" cy="1295" rx="9.6" ry="11.2" fill="#000" fill-opacity="0.56"/>
<ellipse cx="570" cy="1295" rx="14.6" ry="25.1" fill="#000" fill-opacity="0.30"/>
<ellipse cx="570" cy="1295" rx="10.1" ry="17.9" fill="#000" fill-opacity="1.00"/>
<ellipse cx="606.7" cy="1295" rx="16.7" ry="25.1" fill="#000" fill-opacity="0.30"/>
<ellipse cx="606.7" cy="1295" rx="11.5" ry="17.9" fill="#000" fill-opacity="1.00"/>
<ellipse cx="640" cy="1295" rx="10" ry="17.2" fill="#000" fill-opacity="0.06"/>
<ellipse cx="640" cy="1295" rx="6.9" ry="12.3" fill="#000" fill-opacity="0.20"/>
<ellipse cx="450" cy="1311" rx="10" ry="17.2" fill="#000" fill-opacity="0.06"/>
<ellipse cx="450" cy="1311" rx="6.9" ry="12.3" fill="#000" fill-opacity="0.20"/>
<ellipse cx="486.7" cy="1311" rx="10" ry="17.2" fill="#000" fill-opacity="0.06"/>
<ellipse cx="486.7" cy="1311" rx="6.9" ry="12.3" fill="#000" fill-opacity="0.20"/>
<ellipse cx="526.7" cy="1311" rx="13.9" ry="15.7" fill="#000" fill-opacity="0.17"/>
<ellipse cx="526.7" cy="1311" rx="9.6" ry="11.2" fill="#000" fill-opacity="0.56"/>
<ellipse cx="550" cy="1311" rx="11.8" ry="16.5" fill="#000" fill-opacity="0.10"/>
<ellipse cx="550" cy="1311" rx="8.2" ry="11.8" fill="#000" fill-opacity="0.35"/>
<ellipse cx="570" cy="1311" rx="13.9" ry="15.7" fill="#000" fill-opacity="0.26"/>
<ellipse cx="570" cy="1311" rx="9.6" ry="11.2" fill="#000" fill-opacity="0.88"/>
<ellipse cx="606.7" cy="1311" rx="13.9" ry="15.7" fill="#000" fill-opacity="0.30"/>
<ellipse cx="606.7" cy="1311" rx="9.6" ry="11.2" fill="#000" fill-opacity="1.00"/>
<ellipse cx="633" cy="1311" rx="10" ry="17.2" fill="#000" fill-opacity="0.06"/>
<ellipse cx="633" cy="1311" rx="6.9" ry="12.3" fill="#000" fill-opacity="0.20"/>
<ellipse cx="410" cy="1328.3" rx="10" ry="17.2" fill="#000" fill-opacity="0.06"/>
<ellipse cx="410" cy="1328.3" rx="6.9" ry="12.3" fill="#000" fill-opacity="0.20"/>
<ellipse cx="445" cy="1328.3" rx="11.8" ry="16.5" fill="#000" fill-opacity="0.10"/>
<ellipse cx="445" cy="1328.3" rx="8.2" ry="11.8" fill="#000" fill-opacity="0.35"/>
<ellipse cx="483.3" cy="1328.3" rx="11.8" ry="16.5" fill="#000" fill-opacity="0.10"/>
<ellipse cx="483.3" cy="1328.3" rx="8.2" ry="11.8" fill="#000" fill-opacity="0.35"/>
<ellipse cx="525" cy="1328.3" rx="13.9" ry="15.7" fill="#000" fill-opacity="0.26"/>
<ellipse cx="525" cy="1328.3" rx="9.6" ry="11.2" fill="#000" fill-opacity="0.88"/>
<ellipse cx="546.7" cy="1328.3" rx="13.9" ry="15.7" fill="#000" fill-opacity="0.17"/>
<ellipse cx="546.7" cy="1328.3" rx="9.6" ry="11.2" fill="#000" fill-opacity="0.56"/>
<ellipse cx="570" cy="1328.3" rx="14.6" ry="17.2" fill="#000" fill-opacity="0.30"/>
<ellipse cx="570" cy="1328.3" rx="10.1" ry="12.3" fill="#000" fill-opacity="1.00"/>
<ellipse cx="605" cy="1328.3" rx="18.1" ry="20.4" fill="#000" fill-opacity="0.30"/>
<ellipse cx="605" cy="1328.3" rx="12.5" ry="14.6" fill="#000" fill-opacity="1.00"/>
<ellipse cx="633.3" cy="1328.3" rx="11.8" ry="16.5" fill="#000" fill-opacity="0.10"/>
<ellipse cx="633.3" cy="1328.3" rx="8.2" ry="11.8" fill="#000" fill-opacity="0.35"/>
<ellipse cx="490" cy="1366.7" rx="10" ry="17.2" fill="#000" fill-opacity="0.03"/>
<ellipse cx="490" cy="1366.7" rx="6.9" ry="12.3" fill="#000" fill-opacity="0.10"/>
<ellipse cx="526.7" cy="1366.7" rx="11.8" ry="16.5" fill="#000" fill-opacity="0.10"/>
<ellipse cx="526.7" cy="1366.7" rx="8.2" ry="11.8" fill="#000" fill-opacity="0.35"/>
<ellipse cx="570" cy="1366.7" rx="13.9" ry="15.7" fill="#000" fill-opacity="0.26"/>
<ellipse cx="570" cy="1366.7" rx="9.6" ry="11.2" fill="#000" fill-opacity="0.88"/>
<ellipse cx="605" cy="1366.7" rx="18.1" ry="17.2" fill="#000" fill-opacity="0.30"/>
<ellipse cx="605" cy="1366.7" rx="12.5" ry="12.3" fill="#000" fill-opacity="1.00"/>
<ellipse cx="633.3" cy="1366.7" rx="11.8" ry="16.5" fill="#000" fill-opacity="0.10"/>
<ellipse cx="633.3" cy="1366.7" rx="8.2" ry="11.8" fill="#000" fill-opacity="0.35"/>
</g>
<line x1="58" y1="1091.6" x2="673" y2="1091.6" stroke="#111" stroke-width="2.4" />
<line x1="58" y1="1253" x2="673" y2="1253" stroke="#111" stroke-width="2.4" />
<line x1="58" y1="954.2" x2="673" y2="954.2" stroke="#000" stroke-width="2.2" />
<line x1="673.1" y1="953" x2="673.1" y2="1399" stroke="#000" stroke-width="3" />
<line x1="58" y1="953" x2="58" y2="1399" stroke="#000" stroke-width="4" />
<line x1="56" y1="1397.2" x2="675" y2="1397.2" stroke="#000" stroke-width="4.6" />
<text x="72.6" y="1080.3" font-size="36" textLength="109.4" lengthAdjust="spacingAndGlyphs">22L BH</text>
<text x="73.9" y="1234.3" font-size="36" textLength="300.9" lengthAdjust="spacingAndGlyphs">22L BH +acetic acid</text>
<text x="77.2" y="1378" font-size="36" textLength="187.8" lengthAdjust="spacingAndGlyphs">22L BH + Sia</text>
<path d="M675.8 987 L726.9 975.2 L726.9 998.9 Z" fill="#000" stroke="#000" stroke-width="3" stroke-linejoin="round"/>
<path d="M674.8 1028.6 L723.7 1018.6 L723.7 1039.2 Z" fill="#fff" stroke="#000" stroke-width="2.6" stroke-linejoin="miter"/>
<line x1="681.8" y1="1067.7" x2="723.4" y2="1067.7" stroke="#000" stroke-width="3.2" />
<path d="M673.8 1067.7 L700.6 1054.3 L688.5 1067.7 L700.6 1081.5 Z" fill="#000"/>
<path d="M675.6 1136.3 L726 1124.7 L726 1147.9 Z" fill="#000" stroke="#000" stroke-width="3" stroke-linejoin="round"/>
<path d="M679.4 1187.7 L728.2 1177.9 L728.2 1197.5 Z" fill="#fff" stroke="#000" stroke-width="2.6" stroke-linejoin="miter"/>
<line x1="687.1" y1="1223" x2="728.5" y2="1223" stroke="#000" stroke-width="3.2" />
<path d="M679.1 1223 L706.3 1210.5 L694.1 1223 L706.3 1236.7 Z" fill="#000"/>
<path d="M675.6 1284.5 L726.6 1272.9 L726.6 1296.1 Z" fill="#000" stroke="#000" stroke-width="3" stroke-linejoin="round"/>
<path d="M675.4 1323.8 L725.2 1313.6 L725.2 1334.1 Z" fill="#fff" stroke="#000" stroke-width="2.6" stroke-linejoin="miter"/>
<line x1="682.1" y1="1369.1" x2="723.5" y2="1369.1" stroke="#000" stroke-width="3.2" />
<path d="M674.1 1369.1 L700.3 1356 L688.5 1369.1 L700.3 1382.2 Z" fill="#000"/>
<text transform="translate(760.7 1355.2) rotate(-90)" font-size="36" textLength="325.5" lengthAdjust="spacingAndGlyphs">Intensity, normalized</text>
<line x1="849.5" y1="929.6" x2="1310.3" y2="929.6" stroke="#000" stroke-width="2" />
<line x1="1310.3" y1="929" x2="1310.3" y2="1106" stroke="#000" stroke-width="2" />
<line x1="849.5" y1="929.6" x2="849.5" y2="1106" stroke="#8a8a8a" stroke-width="2" />
<line x1="836.7" y1="945.3" x2="849.5" y2="945.3" stroke="#8a8a8a" stroke-width="2" />
<line x1="836.7" y1="1105" x2="849.5" y2="1105" stroke="#8a8a8a" stroke-width="2" />
<text x="777.2" y="950" font-size="34.7" textLength="57.9" lengthAdjust="spacingAndGlyphs">100</text>
<line x1="849.5" y1="1106.7" x2="1310.3" y2="1106.7" stroke="#000" stroke-width="2.4" />
<line x1="1309" y1="1106" x2="1309" y2="1290" stroke="#000" stroke-width="2" />
<line x1="849.5" y1="1106.7" x2="849.5" y2="1291" stroke="#8a8a8a" stroke-width="2" />
<line x1="836" y1="1123.4" x2="849.5" y2="1123.4" stroke="#8a8a8a" stroke-width="2" />
<line x1="836" y1="1290.1" x2="849.5" y2="1290.1" stroke="#8a8a8a" stroke-width="2" />
<text x="772.6" y="1140.7" font-size="34.7" textLength="58.3" lengthAdjust="spacingAndGlyphs">100</text>
<line x1="1308" y1="1290" x2="1308" y2="1467" stroke="#000" stroke-width="2" />
<line x1="848.6" y1="1295.6" x2="848.6" y2="1468" stroke="#8a8a8a" stroke-width="2" />
<line x1="835" y1="1305.3" x2="848.6" y2="1305.3" stroke="#8a8a8a" stroke-width="2" />
<line x1="835" y1="1467.4" x2="848.6" y2="1467.4" stroke="#8a8a8a" stroke-width="2" />
<text x="780.7" y="1361" font-size="34.7" textLength="58.9" lengthAdjust="spacingAndGlyphs">100</text>
<text x="807.8" y="1479.5" font-size="34.7" textLength="19.5" lengthAdjust="spacingAndGlyphs">0</text>
<text x="859.9" y="1329.8" font-size="34.4" textLength="65" lengthAdjust="spacingAndGlyphs">Non</text>
<text x="869.6" y="1511.8" font-size="42.3" textLength="103.9" lengthAdjust="spacingAndGlyphs">Acidic</text>
<text x="1057.9" y="1511.8" font-size="42.3" textLength="36.8" lengthAdjust="spacingAndGlyphs">pI</text>
<text x="1202.3" y="1511.8" font-size="42.3" textLength="91.3" lengthAdjust="spacingAndGlyphs">Basic</text>
<path d="M850 1099 C852 1099 857.8 1099 862 1099.2 C866.2 1099.4 863.7 1099.9 875 1100 C886.3 1100.1 918.3 1100 930 1099.8 C941.7 1099.5 941.4 1100.4 945 1098.5 C948.6 1096.6 949.1 1090.3 951.5 1088.4 C953.9 1086.5 956.8 1089.6 959.5 1087.3 C962.2 1085 964.9 1075.7 967.6 1074.7 C970.3 1073.7 973.1 1084 975.6 1081.5 C978.1 1079 980 1062.6 982.5 1059.7 C985 1056.8 988 1070.6 990.5 1064.3 C993 1058 995.1 1027.5 997.4 1021.8 C999.7 1016.1 1001.8 1034.3 1004.3 1029.9 C1006.8 1025.5 1009.6 996.5 1012.3 995.4 C1015 994.2 1017.1 1025.7 1020.4 1023 C1023.6 1020.3 1028.5 985.1 1031.8 979.4 C1035 973.7 1037.8 988.6 1039.9 988.6 C1042 988.6 1042.6 986.5 1044.5 979.4 C1046.4 972.3 1048 940.8 1051.4 946.1 C1054.8 951.5 1060.7 1010.2 1065.1 1011.5 C1069.5 1012.8 1073.8 954.7 1077.8 954.1 C1081.8 953.5 1085.5 1006.4 1089.3 1008.1 C1093.1 1009.8 1095.5 958.5 1100.7 964.4 C1105.9 970.3 1114.8 1041.8 1120.2 1043.7 C1125.6 1045.6 1128.2 974.6 1133 976 C1137.8 977.4 1145.5 1039 1149.3 1052.2 C1153.1 1065.4 1152.6 1057.9 1155.6 1055.3 C1158.6 1052.7 1164.3 1038.4 1167.2 1036.6 C1170.1 1034.8 1170.6 1038.3 1172.7 1044.4 C1174.8 1050.5 1177.4 1068.3 1179.7 1073.2 C1182 1078.1 1184.4 1074.7 1186.7 1074 C1189 1073.3 1191.1 1067.5 1193.7 1069.3 C1196.3 1071.1 1198.2 1081 1202.2 1084.9 C1206.2 1088.8 1213.1 1090 1217.8 1092.6 C1222.5 1095.2 1226.3 1098.8 1230.2 1100.4 C1234.1 1102 1232.8 1102 1241.1 1102 C1249.4 1102 1268.5 1100.8 1280 1100.4 C1291.5 1100 1305 1099.7 1310 1099.6" fill="none" stroke="#000" stroke-width="4.7" stroke-linejoin="round" stroke-linecap="round"/>
<path d="M850 1103.4 C865 1103.4 914.7 1104 940 1103.6 C965.3 1103.2 988.4 1103.2 1002 1101 C1015.6 1098.8 1016.5 1091.9 1021.5 1090.7 C1026.5 1089.5 1027.8 1097 1031.8 1094 C1035.8 1091 1041 1081.8 1045.6 1072.4 C1050.2 1063.1 1055 1037.7 1059.4 1037.9 C1063.8 1038.1 1068.2 1074.3 1072 1073.5 C1075.8 1072.7 1079.9 1043.8 1082.4 1033.3 C1084.9 1022.8 1084.7 1012.7 1087 1010.4 C1089.3 1008.1 1092.8 1027.5 1096 1019.5 C1099.2 1011.5 1102.3 960.6 1106.5 962.1 C1110.7 963.6 1117 1031.6 1121.4 1028.7 C1125.8 1025.8 1128.7 941.8 1132.9 944.9 C1137.1 948 1142.9 1035.7 1146.7 1047.1 C1150.5 1058.5 1152.2 1025.7 1155.6 1013.3 C1159 1000.9 1163.5 971.9 1167.2 972.9 C1171 973.9 1174.6 1015.1 1178.1 1019.5 C1181.6 1023.9 1185.2 997.7 1188.2 999.3 C1191.2 1000.9 1193.4 1016.7 1196 1028.9 C1198.6 1041.1 1201.5 1064.1 1203.8 1072.4 C1206.1 1080.7 1207.2 1077.3 1210 1078.6 C1212.8 1079.9 1216 1076.6 1220.9 1080.2 C1225.8 1083.8 1234.8 1096.5 1239.5 1100.4 C1244.2 1104.3 1237.2 1103 1248.9 1103.5 C1260.7 1104 1299.8 1103.5 1310 1103.5" fill="none" stroke="#858585" stroke-width="4.7" stroke-linejoin="round" stroke-linecap="round"/>
<path d="M850 1100.5 C874.6 1100.4 967.1 1101.9 997.4 1099.9 C1027.7 1097.9 1022.4 1093.4 1031.8 1088.4 C1041.2 1083.4 1048.3 1071.3 1053.7 1070 C1059.1 1068.7 1059.6 1084.8 1064 1080.4 C1068.4 1076 1075.7 1047.3 1080.1 1043.7 C1084.5 1040.1 1086.6 1062.8 1090.4 1058.6 C1094.2 1054.4 1099.6 1023.8 1103 1018.4 C1106.4 1013 1108.2 1026.1 1111 1026.4 C1113.8 1026.7 1115.8 1028.8 1120 1020 C1124.2 1011.2 1132 976.2 1136.3 973.6 C1140.5 971 1142.4 999.4 1145.5 1004.6 C1148.6 1009.8 1151.3 1013.1 1154.7 1004.6 C1158.1 996.1 1161.9 951.4 1165.7 953.4 C1169.5 955.4 1172.9 1017.8 1177.3 1016.4 C1181.7 1015 1187.9 943.1 1192.1 944.9 C1196.2 946.7 1198.7 1009.2 1202.2 1027.3 C1205.7 1045.4 1208.9 1047 1213.1 1053.7 C1217.2 1060.4 1223.2 1062.5 1227.1 1067.7 C1231 1072.9 1232.8 1080 1236.4 1084.9 C1240 1089.8 1245.5 1094.7 1248.9 1097.3 C1252.3 1099.9 1246.4 1099.9 1256.6 1100.4 C1266.8 1100.9 1301.1 1100.4 1310 1100.4" fill="none" stroke="#000" stroke-width="1.5" stroke-linejoin="round" stroke-linecap="round"/>
<line x1="849.5" y1="1106.3" x2="1310.3" y2="1106.3" stroke="#000" stroke-width="2.4" />
<line x1="849.5" y1="1290.3" x2="1308.5" y2="1290.3" stroke="#000" stroke-width="1.6" />
<path d="M850 1289 C875.7 1289 973.2 1290.4 1004.3 1289.1 C1035.4 1287.8 1027.4 1286 1036.4 1281 C1045.4 1276 1052.9 1259.9 1058.3 1259.3 C1063.7 1258.7 1064.2 1281.4 1068.6 1277.6 C1073 1273.8 1080.7 1240.9 1084.7 1236.3 C1088.7 1231.7 1089.3 1257.5 1092.7 1250 C1096.1 1242.5 1101.1 1194.2 1105.3 1191.5 C1109.5 1188.8 1113.6 1241.8 1118 1234 C1122.4 1226.2 1127.3 1145.2 1131.7 1144.4 C1136.1 1143.6 1138.5 1233 1144.4 1229.4 C1150.3 1225.8 1161.8 1133.7 1167.3 1122.6 C1172.8 1111.5 1174.6 1161.1 1177.7 1162.8 C1180.8 1164.5 1182.1 1125.3 1185.7 1133 C1189.3 1140.7 1194.9 1190.5 1199.5 1208.7 C1204.1 1226.9 1209.5 1236.5 1213.3 1242 C1217.1 1247.5 1219 1236.5 1222.4 1242 C1225.8 1247.5 1229.3 1267.6 1233.9 1275.3 C1238.5 1283 1237.5 1285.7 1250 1288 C1262.5 1290.3 1299.2 1288.8 1309 1289" fill="none" stroke="#858585" stroke-width="4.7" stroke-linejoin="round" stroke-linecap="round"/>
<path d="M850 1285.5 C863.3 1285.5 915 1285.7 930 1285.7 C945 1285.7 936 1286.3 940 1285.7 C944 1285.1 949.2 1284.1 953.8 1282.2 C958.4 1280.3 964.2 1274.6 967.6 1274.2 C971 1273.8 971.7 1281.4 974.4 1279.9 C977.1 1278.4 981.1 1266.9 983.6 1265 C986.1 1263.1 987.1 1271.3 989.4 1268.4 C991.7 1265.5 994.7 1250.3 997.4 1247.8 C1000.1 1245.3 1003.1 1257.1 1005.4 1253.5 C1007.7 1249.9 1008.9 1227.2 1011.2 1226 C1013.5 1224.8 1016.1 1250 1019.2 1246.6 C1022.3 1243.1 1026.3 1210.8 1029.6 1205.3 C1032.8 1199.8 1035.7 1219.4 1038.7 1213.3 C1041.8 1207.2 1044.1 1166.7 1047.9 1168.6 C1051.7 1170.5 1057.1 1228.2 1061.7 1224.8 C1066.3 1221.3 1070.9 1150.4 1075.5 1147.9 C1080.1 1145.4 1085.1 1209.5 1089.3 1209.9 C1093.5 1210.3 1095.7 1148.5 1100.7 1150.2 C1105.7 1151.9 1113.7 1224.8 1119.1 1220.2 C1124.5 1215.6 1128.1 1124.9 1132.9 1122.6 C1137.7 1120.3 1142.2 1202 1147.8 1206.4 C1153.3 1210.8 1161 1146.1 1166.2 1149 C1171.4 1151.9 1174.8 1214.9 1178.8 1223.7 C1182.8 1232.5 1186.5 1197.8 1190.3 1201.8 C1194.1 1205.8 1198 1237.8 1201.8 1247.8 C1205.6 1257.8 1209.1 1256.2 1213.3 1261.5 C1217.5 1266.8 1222.8 1275.7 1227 1279.9 C1231.2 1284.1 1233 1285.8 1238.5 1286.8 C1244 1287.8 1248.2 1286.2 1260 1286 C1271.8 1285.8 1300.8 1285.6 1309 1285.5" fill="none" stroke="#000" stroke-width="4.7" stroke-linejoin="round" stroke-linecap="round"/>
<path d="M850 1288.5 C876.5 1288.4 977.8 1289.4 1008.9 1288 C1040 1286.6 1029.1 1282.8 1036.4 1279.9 C1043.7 1277 1048.3 1271.7 1052.5 1270.7 C1056.7 1269.8 1057.9 1277.5 1061.7 1274.2 C1065.5 1271 1071.3 1253.1 1075.5 1251.2 C1079.7 1249.3 1082.8 1264.8 1087 1262.7 C1091.2 1260.6 1095.7 1240.3 1100.7 1238.6 C1105.7 1236.9 1111.4 1260.6 1116.8 1252.4 C1122.2 1244.2 1128.7 1195.5 1132.9 1189.2 C1137.1 1182.9 1138.5 1210.9 1142.1 1214.5 C1145.7 1218.1 1151.1 1221.2 1154.7 1211 C1158.3 1200.8 1159.9 1154 1163.9 1153.6 C1167.9 1153.2 1174.4 1213.7 1178.8 1208.7 C1183.2 1203.7 1186.3 1122.7 1190.3 1123.8 C1194.3 1124.9 1199.3 1199.5 1202.9 1215.6 C1206.5 1231.7 1209.4 1214.8 1212.1 1220.2 C1214.8 1225.6 1215.4 1238 1219 1247.8 C1222.6 1257.6 1228.7 1272.7 1233.9 1278.8 C1239.1 1284.9 1237.5 1283.1 1250 1284.2 C1262.5 1285.3 1299.2 1285.3 1309 1285.5" fill="none" stroke="#000" stroke-width="1.5" stroke-linejoin="round" stroke-linecap="round"/>
<path d="M849 1466 C885.1 1465.8 1021.7 1465.3 1065.6 1465 C1109.5 1464.7 1102.6 1465.9 1112.2 1464.2 C1121.8 1462.5 1118.9 1456.7 1123.1 1454.9 C1127.2 1453.1 1133.2 1455.9 1137.1 1453.3 C1141 1450.7 1143.6 1445.3 1146.4 1439.3 C1149.2 1433.3 1152.1 1428.1 1154.2 1417.5 C1156.3 1406.9 1157.4 1387.7 1158.9 1375.5 C1160.5 1363.3 1161.7 1347.2 1163.5 1344.4 C1165.3 1341.6 1167.5 1362.3 1169.8 1358.4 C1172.1 1354.5 1174.9 1329.9 1177.5 1321.1 C1180.1 1312.3 1182.7 1304.5 1185.3 1305.5 C1187.9 1306.5 1190.5 1315.4 1193.1 1327.3 C1195.7 1339.2 1198.8 1365.9 1200.9 1377.1 C1203 1388.2 1203.2 1391.1 1205.5 1394.2 C1207.8 1397.3 1212.3 1392.4 1214.9 1395.8 C1217.5 1399.2 1219.3 1406.9 1221.1 1414.4 C1222.9 1421.9 1223.9 1433.6 1225.7 1440.9 C1227.5 1448.2 1228.9 1454 1232 1458 C1235.1 1462 1231.7 1463.8 1244.4 1465 C1257.1 1466.2 1297.4 1465 1308 1465" fill="none" stroke="#858585" stroke-width="4.7" stroke-linejoin="round" stroke-linecap="round"/>
<path d="M849 1464.4 C880.8 1464.4 1006.5 1464.5 1040 1464.2 C1073.5 1463.9 1045.7 1463.3 1050 1462.5 C1054.3 1461.7 1061.7 1460.7 1065.6 1459.5 C1069.5 1458.3 1069.4 1456.2 1073.3 1455.5 C1077.2 1454.8 1084.8 1458.3 1088.9 1455.6 C1093.1 1452.9 1095.6 1442.4 1098.2 1439.3 C1100.8 1436.2 1101.3 1437.7 1104.4 1437 C1107.5 1436.3 1113.8 1437.4 1116.9 1435.4 C1120 1433.5 1121.3 1434 1123.1 1425.3 C1124.9 1416.6 1126 1393.5 1127.8 1383.3 C1129.6 1373.1 1131.7 1361.3 1134 1363.9 C1136.3 1366.5 1139.2 1394.1 1141.8 1398.9 C1144.4 1403.7 1146.7 1404.3 1149.5 1392.6 C1152.3 1380.9 1156.2 1343.5 1158.9 1328.9 C1161.6 1314.3 1163.7 1300.9 1165.9 1304.8 C1168.1 1308.7 1170.4 1337.6 1172.1 1352.2 C1173.8 1366.8 1174.3 1386.9 1176 1392.6 C1177.7 1398.3 1180.1 1394.7 1182.2 1386.4 C1184.3 1378.1 1186.9 1350.4 1188.4 1342.9 C1190 1335.4 1190.2 1335.6 1191.5 1341.3 C1192.8 1347 1194.6 1363.1 1196.2 1377.1 C1197.8 1391.1 1198.6 1414.9 1200.9 1425.3 C1203.2 1435.7 1206.8 1434.4 1210.2 1439.3 C1213.6 1444.2 1217.7 1451.5 1221.1 1454.9 C1224.5 1458.3 1225.6 1458.1 1230.4 1459.5 C1235.2 1460.9 1243.4 1462.7 1250 1463.5 C1256.6 1464.3 1260.3 1464.1 1270 1464.3 C1279.7 1464.5 1301.7 1464.4 1308 1464.4" fill="none" stroke="#000" stroke-width="4.7" stroke-linejoin="round" stroke-linecap="round"/>
<path d="M1050 1463 C1053.9 1462.7 1066 1461.8 1073.3 1461 C1080.5 1460.2 1088.8 1459.2 1093.5 1458 C1098.2 1456.8 1097.4 1454.8 1101.3 1454 C1105.2 1453.2 1113 1456 1116.9 1453.3 C1120.8 1450.6 1122.5 1442.9 1124.6 1437.7 C1126.7 1432.5 1127 1424 1129.3 1422.2 C1131.6 1420.4 1135.2 1427.9 1138.6 1426.9 C1142 1425.9 1145.9 1425.8 1149.5 1416 C1153.1 1406.2 1157.8 1374.5 1160.4 1367.8 C1163 1361 1163.3 1369.3 1165.1 1375.5 C1166.9 1381.7 1169.8 1401.2 1171.3 1405.1 C1172.8 1409 1173.1 1411.6 1174.4 1398.9 C1175.7 1386.2 1177.3 1344.5 1179.1 1328.9 C1180.9 1313.3 1183.5 1308.1 1185.3 1305.5 C1187.1 1302.9 1188.5 1302.9 1190 1313.3 C1191.5 1323.7 1192.5 1353.5 1194.6 1367.8 C1196.7 1382.1 1199.8 1391.7 1202.4 1398.9 C1205 1406.2 1207.6 1404.6 1210.2 1411.3 C1212.8 1418 1214.9 1431.5 1218 1439.3 C1221.1 1447.1 1225.7 1454.4 1228.8 1458 C1231.9 1461.6 1231.4 1460.2 1236.6 1461 C1241.8 1461.8 1256.1 1462.2 1260 1462.5" fill="none" stroke="#000" stroke-width="1.5" stroke-linejoin="round" stroke-linecap="round"/>
<line x1="849" y1="1467.4" x2="1308" y2="1467.4" stroke="#8a8a8a" stroke-width="1.6" /></svg></body></html>
